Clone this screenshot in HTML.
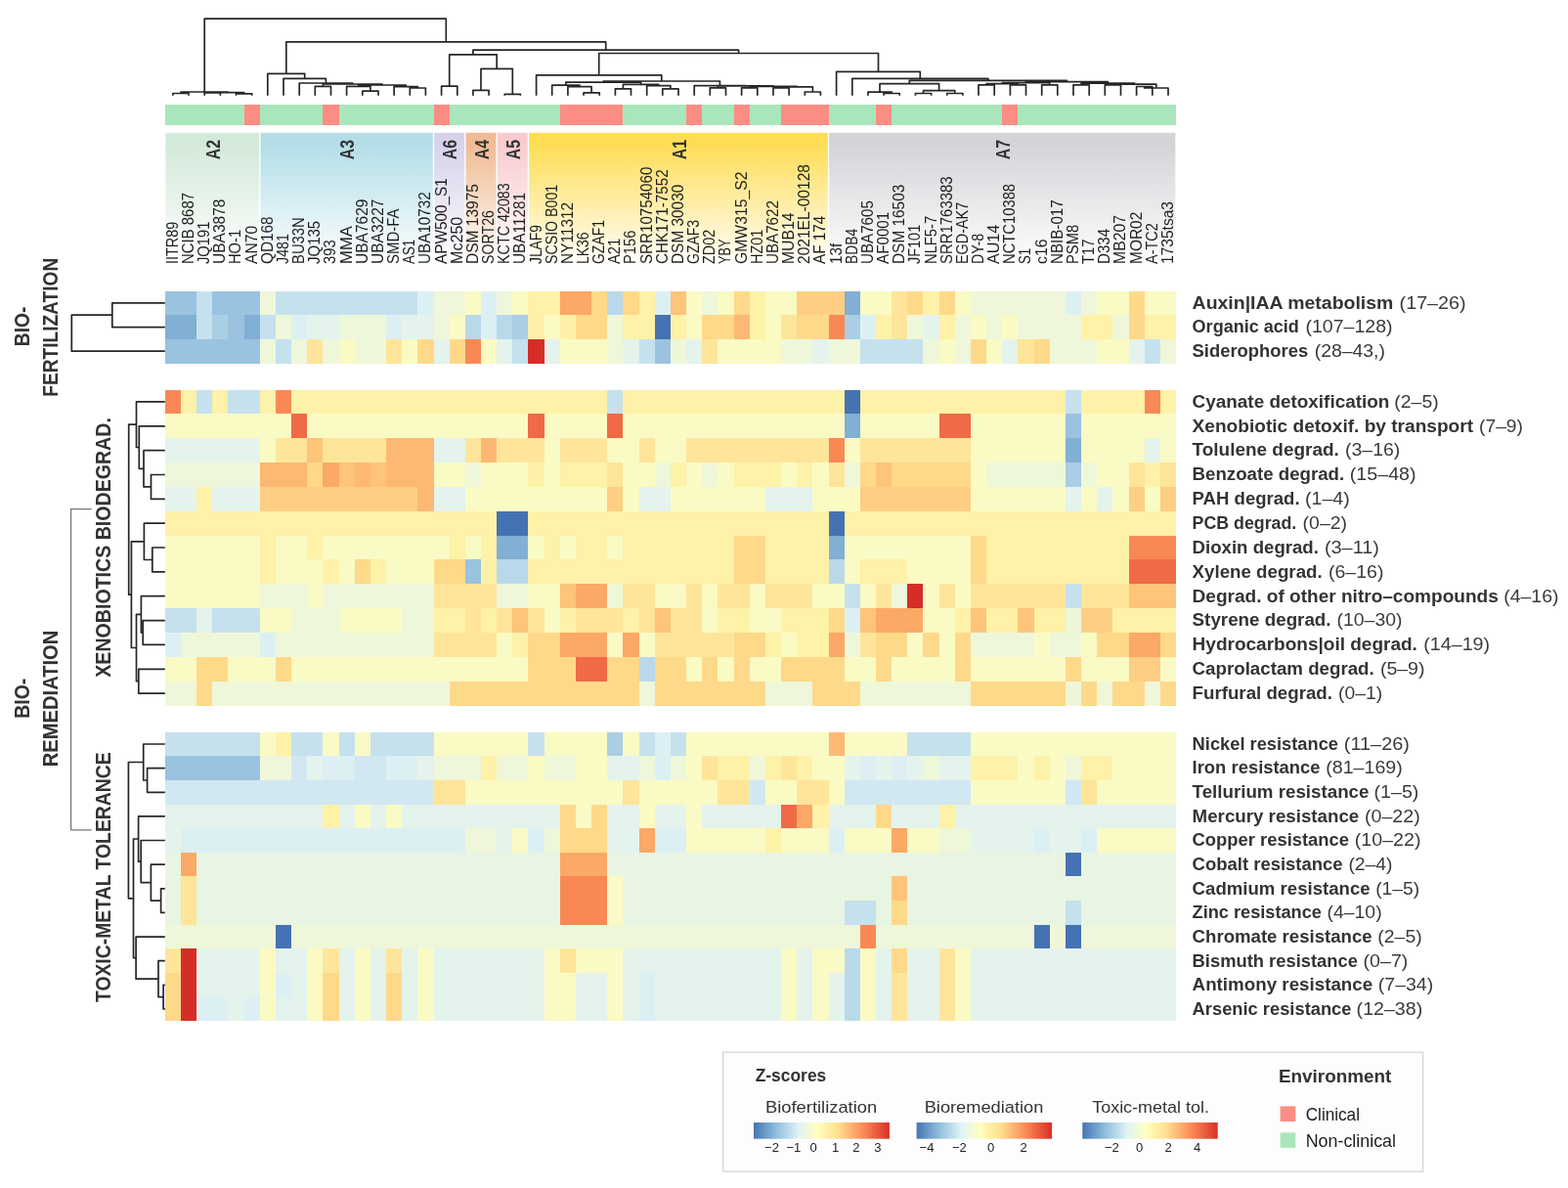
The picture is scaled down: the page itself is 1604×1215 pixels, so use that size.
<!DOCTYPE html>
<html><head><meta charset="utf-8"><title>Heatmap</title><style>
html,body{margin:0;padding:0;background:#fff;}
body{width:1604px;height:1215px;overflow:hidden;}
svg{display:block;}
text{font-family:"Liberation Sans",Arial,sans-serif;}
.cl{font-size:16px;fill:#1e1e1e;}
.grp{font-size:19.5px;font-weight:bold;fill:#333;}
.dg{fill:none;stroke:#262626;stroke-width:1.7;stroke-linejoin:round;stroke-linecap:butt;}
.br{fill:none;stroke:#777;stroke-width:1.3;}
.big{font-size:21.3px;font-weight:bold;fill:#333;}
.rb{font-size:18.7px;font-weight:bold;fill:#333;}
.rr{font-size:18.7px;fill:#3a3a3a;}
.lgh{font-size:18.7px;font-weight:bold;fill:#333;}
.lgt{font-size:17.2px;fill:#333;}
.tk{font-size:13px;fill:#222;}
.lge{font-size:17.7px;fill:#1e1e1e;}
</style></head><body>
<svg width="1604" height="1215" viewBox="0 0 1604 1215">
<defs>
<linearGradient id="gA2" x1="0" y1="0" x2="0" y2="1"><stop offset="0" stop-color="#d3e9da"/><stop offset="0.08" stop-color="#d3e9da"/><stop offset="1" stop-color="#ffffff"/></linearGradient>
<linearGradient id="gA3" x1="0" y1="0" x2="0" y2="1"><stop offset="0" stop-color="#b3dee8"/><stop offset="0.08" stop-color="#b3dee8"/><stop offset="1" stop-color="#ffffff"/></linearGradient>
<linearGradient id="gA6" x1="0" y1="0" x2="0" y2="1"><stop offset="0" stop-color="#d7d2ea"/><stop offset="0.08" stop-color="#d7d2ea"/><stop offset="1" stop-color="#ffffff"/></linearGradient>
<linearGradient id="gA4" x1="0" y1="0" x2="0" y2="1"><stop offset="0" stop-color="#f0bb93"/><stop offset="0.08" stop-color="#f0bb93"/><stop offset="1" stop-color="#ffffff"/></linearGradient>
<linearGradient id="gA5" x1="0" y1="0" x2="0" y2="1"><stop offset="0" stop-color="#f8cbcf"/><stop offset="0.08" stop-color="#f8cbcf"/><stop offset="1" stop-color="#ffffff"/></linearGradient>
<linearGradient id="gA1" x1="0" y1="0" x2="0" y2="1"><stop offset="0" stop-color="#fedd55"/><stop offset="0.08" stop-color="#fedd55"/><stop offset="1" stop-color="#ffffff"/></linearGradient>
<linearGradient id="gA7" x1="0" y1="0" x2="0" y2="1"><stop offset="0" stop-color="#d3d4d8"/><stop offset="0.08" stop-color="#d3d4d8"/><stop offset="1" stop-color="#ffffff"/></linearGradient>
<linearGradient id="b1" x1="0" y1="0" x2="1" y2="0"><stop offset="0" stop-color="#4575b4"/><stop offset="0.17" stop-color="#91bfdb"/><stop offset="0.33" stop-color="#e0f3f8"/><stop offset="0.47" stop-color="#ffffbf"/><stop offset="0.62" stop-color="#fee090"/><stop offset="0.8" stop-color="#fc8d59"/><stop offset="1" stop-color="#d73027"/></linearGradient>
<linearGradient id="b2" x1="0" y1="0" x2="1" y2="0"><stop offset="0" stop-color="#4575b4"/><stop offset="0.17" stop-color="#91bfdb"/><stop offset="0.33" stop-color="#e0f3f8"/><stop offset="0.47" stop-color="#ffffbf"/><stop offset="0.62" stop-color="#fee090"/><stop offset="0.8" stop-color="#fc8d59"/><stop offset="1" stop-color="#d73027"/></linearGradient>
<linearGradient id="b3" x1="0" y1="0" x2="1" y2="0"><stop offset="0" stop-color="#4575b4"/><stop offset="0.17" stop-color="#91bfdb"/><stop offset="0.33" stop-color="#e0f3f8"/><stop offset="0.47" stop-color="#ffffbf"/><stop offset="0.62" stop-color="#fee090"/><stop offset="0.8" stop-color="#fc8d59"/><stop offset="1" stop-color="#d73027"/></linearGradient>
</defs>
<rect width="1604" height="1215" fill="#ffffff"/>
<g shape-rendering="crispEdges">
<rect x="168.80" y="297.50" width="32.32" height="24.70" fill="#9ac3df"/>
<rect x="201.12" y="297.50" width="16.16" height="24.70" fill="#c5e1ee"/>
<rect x="217.28" y="297.50" width="48.48" height="24.70" fill="#9ac3df"/>
<rect x="265.76" y="297.50" width="16.16" height="24.70" fill="#eff7da"/>
<rect x="281.92" y="297.50" width="145.44" height="24.70" fill="#c5e1ee"/>
<rect x="427.36" y="297.50" width="16.16" height="24.70" fill="#dcf0f4"/>
<rect x="443.52" y="297.50" width="32.32" height="24.70" fill="#eff7da"/>
<rect x="475.84" y="297.50" width="16.16" height="24.70" fill="#fafac4"/>
<rect x="492.00" y="297.50" width="16.16" height="24.70" fill="#dcf0f4"/>
<rect x="508.16" y="297.50" width="16.16" height="24.70" fill="#eff7da"/>
<rect x="524.32" y="297.50" width="16.16" height="24.70" fill="#fafac4"/>
<rect x="540.48" y="297.50" width="32.32" height="24.70" fill="#fef1a8"/>
<rect x="572.80" y="297.50" width="32.32" height="24.70" fill="#fca866"/>
<rect x="605.12" y="297.50" width="16.16" height="24.70" fill="#fed98a"/>
<rect x="621.28" y="297.50" width="16.16" height="24.70" fill="#b9d9eb"/>
<rect x="637.44" y="297.50" width="16.16" height="24.70" fill="#fed98a"/>
<rect x="653.60" y="297.50" width="16.16" height="24.70" fill="#fef1a8"/>
<rect x="669.76" y="297.50" width="16.16" height="24.70" fill="#dcf0f4"/>
<rect x="685.92" y="297.50" width="16.16" height="24.70" fill="#fdc47a"/>
<rect x="702.08" y="297.50" width="16.16" height="24.70" fill="#fafac4"/>
<rect x="718.24" y="297.50" width="16.16" height="24.70" fill="#eff7da"/>
<rect x="734.40" y="297.50" width="16.16" height="24.70" fill="#fafac4"/>
<rect x="750.56" y="297.50" width="16.16" height="24.70" fill="#fed98a"/>
<rect x="766.72" y="297.50" width="16.16" height="24.70" fill="#fef1a8"/>
<rect x="782.88" y="297.50" width="32.32" height="24.70" fill="#fafac4"/>
<rect x="815.20" y="297.50" width="48.48" height="24.70" fill="#fdce83"/>
<rect x="863.68" y="297.50" width="16.16" height="24.70" fill="#82afd4"/>
<rect x="879.84" y="297.50" width="32.32" height="24.70" fill="#fafac4"/>
<rect x="912.16" y="297.50" width="16.16" height="24.70" fill="#fee59a"/>
<rect x="928.32" y="297.50" width="16.16" height="24.70" fill="#fed98a"/>
<rect x="944.48" y="297.50" width="16.16" height="24.70" fill="#fef1a8"/>
<rect x="960.64" y="297.50" width="16.16" height="24.70" fill="#fed98a"/>
<rect x="976.80" y="297.50" width="16.16" height="24.70" fill="#fafac4"/>
<rect x="992.96" y="297.50" width="96.96" height="24.70" fill="#eff7da"/>
<rect x="1089.92" y="297.50" width="16.16" height="24.70" fill="#dcf0f4"/>
<rect x="1106.08" y="297.50" width="16.16" height="24.70" fill="#eff7da"/>
<rect x="1122.24" y="297.50" width="32.32" height="24.70" fill="#fafac4"/>
<rect x="1154.56" y="297.50" width="16.16" height="24.70" fill="#fed98a"/>
<rect x="1170.72" y="297.50" width="32.32" height="24.70" fill="#fafac4"/>
<rect x="168.80" y="322.20" width="32.32" height="24.70" fill="#82afd4"/>
<rect x="201.12" y="322.20" width="16.16" height="24.70" fill="#c5e1ee"/>
<rect x="217.28" y="322.20" width="16.16" height="24.70" fill="#aacee4"/>
<rect x="233.44" y="322.20" width="16.16" height="24.70" fill="#9ac3df"/>
<rect x="249.60" y="322.20" width="16.16" height="24.70" fill="#82afd4"/>
<rect x="265.76" y="322.20" width="16.16" height="24.70" fill="#c5e1ee"/>
<rect x="281.92" y="322.20" width="16.16" height="24.70" fill="#eff7da"/>
<rect x="298.08" y="322.20" width="16.16" height="24.70" fill="#dcf0f4"/>
<rect x="314.24" y="322.20" width="32.32" height="24.70" fill="#e4f3ec"/>
<rect x="346.56" y="322.20" width="48.48" height="24.70" fill="#eff7da"/>
<rect x="395.04" y="322.20" width="16.16" height="24.70" fill="#dcf0f4"/>
<rect x="411.20" y="322.20" width="32.32" height="24.70" fill="#e4f3ec"/>
<rect x="443.52" y="322.20" width="16.16" height="24.70" fill="#eff7da"/>
<rect x="459.68" y="322.20" width="16.16" height="24.70" fill="#fafac4"/>
<rect x="475.84" y="322.20" width="16.16" height="24.70" fill="#b9d9eb"/>
<rect x="492.00" y="322.20" width="16.16" height="24.70" fill="#dcf0f4"/>
<rect x="508.16" y="322.20" width="16.16" height="24.70" fill="#b9d9eb"/>
<rect x="524.32" y="322.20" width="16.16" height="24.70" fill="#aacee4"/>
<rect x="540.48" y="322.20" width="16.16" height="24.70" fill="#fef1a8"/>
<rect x="556.64" y="322.20" width="16.16" height="24.70" fill="#fafac4"/>
<rect x="572.80" y="322.20" width="16.16" height="24.70" fill="#fef1a8"/>
<rect x="588.96" y="322.20" width="32.32" height="24.70" fill="#fed98a"/>
<rect x="621.28" y="322.20" width="16.16" height="24.70" fill="#eff7da"/>
<rect x="637.44" y="322.20" width="32.32" height="24.70" fill="#fef1a8"/>
<rect x="669.76" y="322.20" width="16.16" height="24.70" fill="#4572b2"/>
<rect x="685.92" y="322.20" width="16.16" height="24.70" fill="#fef1a8"/>
<rect x="702.08" y="322.20" width="16.16" height="24.70" fill="#fafac4"/>
<rect x="718.24" y="322.20" width="32.32" height="24.70" fill="#fed98a"/>
<rect x="750.56" y="322.20" width="16.16" height="24.70" fill="#fdb873"/>
<rect x="766.72" y="322.20" width="16.16" height="24.70" fill="#fef1a8"/>
<rect x="782.88" y="322.20" width="16.16" height="24.70" fill="#fafac4"/>
<rect x="799.04" y="322.20" width="16.16" height="24.70" fill="#fee59a"/>
<rect x="815.20" y="322.20" width="32.32" height="24.70" fill="#fed98a"/>
<rect x="847.52" y="322.20" width="16.16" height="24.70" fill="#f98954"/>
<rect x="863.68" y="322.20" width="16.16" height="24.70" fill="#aacee4"/>
<rect x="879.84" y="322.20" width="16.16" height="24.70" fill="#dcf0f4"/>
<rect x="896.00" y="322.20" width="16.16" height="24.70" fill="#fef1a8"/>
<rect x="912.16" y="322.20" width="16.16" height="24.70" fill="#fee59a"/>
<rect x="928.32" y="322.20" width="16.16" height="24.70" fill="#eff7da"/>
<rect x="944.48" y="322.20" width="16.16" height="24.70" fill="#e4f3ec"/>
<rect x="960.64" y="322.20" width="16.16" height="24.70" fill="#fef1a8"/>
<rect x="976.80" y="322.20" width="16.16" height="24.70" fill="#eff7da"/>
<rect x="992.96" y="322.20" width="16.16" height="24.70" fill="#fafac4"/>
<rect x="1009.12" y="322.20" width="16.16" height="24.70" fill="#eff7da"/>
<rect x="1025.28" y="322.20" width="16.16" height="24.70" fill="#fafac4"/>
<rect x="1041.44" y="322.20" width="64.64" height="24.70" fill="#eff7da"/>
<rect x="1106.08" y="322.20" width="32.32" height="24.70" fill="#fef1a8"/>
<rect x="1138.40" y="322.20" width="16.16" height="24.70" fill="#eff7da"/>
<rect x="1154.56" y="322.20" width="16.16" height="24.70" fill="#fed98a"/>
<rect x="1170.72" y="322.20" width="32.32" height="24.70" fill="#fef1a8"/>
<rect x="168.80" y="346.90" width="96.96" height="24.70" fill="#9ac3df"/>
<rect x="265.76" y="346.90" width="16.16" height="24.70" fill="#eff7da"/>
<rect x="281.92" y="346.90" width="16.16" height="24.70" fill="#c5e1ee"/>
<rect x="298.08" y="346.90" width="16.16" height="24.70" fill="#eff7da"/>
<rect x="314.24" y="346.90" width="16.16" height="24.70" fill="#fee59a"/>
<rect x="330.40" y="346.90" width="16.16" height="24.70" fill="#eff7da"/>
<rect x="346.56" y="346.90" width="16.16" height="24.70" fill="#fafac4"/>
<rect x="362.72" y="346.90" width="32.32" height="24.70" fill="#eff7da"/>
<rect x="395.04" y="346.90" width="16.16" height="24.70" fill="#fee59a"/>
<rect x="411.20" y="346.90" width="16.16" height="24.70" fill="#fafac4"/>
<rect x="427.36" y="346.90" width="16.16" height="24.70" fill="#fed98a"/>
<rect x="443.52" y="346.90" width="16.16" height="24.70" fill="#e4f3ec"/>
<rect x="459.68" y="346.90" width="16.16" height="24.70" fill="#fed98a"/>
<rect x="475.84" y="346.90" width="16.16" height="24.70" fill="#f98954"/>
<rect x="492.00" y="346.90" width="16.16" height="24.70" fill="#fafac4"/>
<rect x="508.16" y="346.90" width="16.16" height="24.70" fill="#e4f3ec"/>
<rect x="524.32" y="346.90" width="16.16" height="24.70" fill="#c5e1ee"/>
<rect x="540.48" y="346.90" width="16.16" height="24.70" fill="#d52e27"/>
<rect x="556.64" y="346.90" width="16.16" height="24.70" fill="#e4f3ec"/>
<rect x="572.80" y="346.90" width="48.48" height="24.70" fill="#fafac4"/>
<rect x="621.28" y="346.90" width="16.16" height="24.70" fill="#eff7da"/>
<rect x="637.44" y="346.90" width="16.16" height="24.70" fill="#e4f3ec"/>
<rect x="653.60" y="346.90" width="16.16" height="24.70" fill="#c5e1ee"/>
<rect x="669.76" y="346.90" width="16.16" height="24.70" fill="#9ac3df"/>
<rect x="685.92" y="346.90" width="16.16" height="24.70" fill="#eff7da"/>
<rect x="702.08" y="346.90" width="16.16" height="24.70" fill="#e4f3ec"/>
<rect x="718.24" y="346.90" width="16.16" height="24.70" fill="#fee59a"/>
<rect x="734.40" y="346.90" width="64.64" height="24.70" fill="#fafac4"/>
<rect x="799.04" y="346.90" width="32.32" height="24.70" fill="#eff7da"/>
<rect x="831.36" y="346.90" width="16.16" height="24.70" fill="#e4f3ec"/>
<rect x="847.52" y="346.90" width="32.32" height="24.70" fill="#eff7da"/>
<rect x="879.84" y="346.90" width="64.64" height="24.70" fill="#c5e1ee"/>
<rect x="944.48" y="346.90" width="16.16" height="24.70" fill="#eff7da"/>
<rect x="960.64" y="346.90" width="16.16" height="24.70" fill="#fafac4"/>
<rect x="976.80" y="346.90" width="16.16" height="24.70" fill="#eff7da"/>
<rect x="992.96" y="346.90" width="16.16" height="24.70" fill="#fed98a"/>
<rect x="1009.12" y="346.90" width="16.16" height="24.70" fill="#fafac4"/>
<rect x="1025.28" y="346.90" width="16.16" height="24.70" fill="#e4f3ec"/>
<rect x="1041.44" y="346.90" width="16.16" height="24.70" fill="#fee59a"/>
<rect x="1057.60" y="346.90" width="16.16" height="24.70" fill="#fed98a"/>
<rect x="1073.76" y="346.90" width="48.48" height="24.70" fill="#eff7da"/>
<rect x="1122.24" y="346.90" width="32.32" height="24.70" fill="#fafac4"/>
<rect x="1154.56" y="346.90" width="16.16" height="24.70" fill="#e4f3ec"/>
<rect x="1170.72" y="346.90" width="16.16" height="24.70" fill="#c5e1ee"/>
<rect x="1186.88" y="346.90" width="16.16" height="24.70" fill="#eff7da"/>
<rect x="168.80" y="398.50" width="16.16" height="24.85" fill="#f98954"/>
<rect x="184.96" y="398.50" width="16.16" height="24.85" fill="#fef1a8"/>
<rect x="201.12" y="398.50" width="16.16" height="24.85" fill="#c5e1ee"/>
<rect x="217.28" y="398.50" width="16.16" height="24.85" fill="#fef1a8"/>
<rect x="233.44" y="398.50" width="32.32" height="24.85" fill="#c5e1ee"/>
<rect x="265.76" y="398.50" width="16.16" height="24.85" fill="#fef1a8"/>
<rect x="281.92" y="398.50" width="16.16" height="24.85" fill="#f98954"/>
<rect x="298.08" y="398.50" width="323.20" height="24.85" fill="#fef1a8"/>
<rect x="621.28" y="398.50" width="16.16" height="24.85" fill="#c5e1ee"/>
<rect x="637.44" y="398.50" width="226.24" height="24.85" fill="#fef1a8"/>
<rect x="863.68" y="398.50" width="16.16" height="24.85" fill="#4572b2"/>
<rect x="879.84" y="398.50" width="210.08" height="24.85" fill="#fef1a8"/>
<rect x="1089.92" y="398.50" width="16.16" height="24.85" fill="#c5e1ee"/>
<rect x="1106.08" y="398.50" width="64.64" height="24.85" fill="#fef1a8"/>
<rect x="1170.72" y="398.50" width="16.16" height="24.85" fill="#f98954"/>
<rect x="1186.88" y="398.50" width="16.16" height="24.85" fill="#fef1a8"/>
<rect x="168.80" y="423.35" width="129.28" height="24.85" fill="#fafac4"/>
<rect x="298.08" y="423.35" width="16.16" height="24.85" fill="#ef6a45"/>
<rect x="314.24" y="423.35" width="226.24" height="24.85" fill="#fafac4"/>
<rect x="540.48" y="423.35" width="16.16" height="24.85" fill="#ef6a45"/>
<rect x="556.64" y="423.35" width="64.64" height="24.85" fill="#fafac4"/>
<rect x="621.28" y="423.35" width="16.16" height="24.85" fill="#ef6a45"/>
<rect x="637.44" y="423.35" width="226.24" height="24.85" fill="#fafac4"/>
<rect x="863.68" y="423.35" width="16.16" height="24.85" fill="#82afd4"/>
<rect x="879.84" y="423.35" width="80.80" height="24.85" fill="#fafac4"/>
<rect x="960.64" y="423.35" width="32.32" height="24.85" fill="#ef6a45"/>
<rect x="992.96" y="423.35" width="96.96" height="24.85" fill="#fafac4"/>
<rect x="1089.92" y="423.35" width="16.16" height="24.85" fill="#9ac3df"/>
<rect x="1106.08" y="423.35" width="96.96" height="24.85" fill="#fafac4"/>
<rect x="168.80" y="448.20" width="96.96" height="24.85" fill="#e4f3ec"/>
<rect x="265.76" y="448.20" width="16.16" height="24.85" fill="#fafac4"/>
<rect x="281.92" y="448.20" width="32.32" height="24.85" fill="#fee59a"/>
<rect x="314.24" y="448.20" width="16.16" height="24.85" fill="#fdc47a"/>
<rect x="330.40" y="448.20" width="64.64" height="24.85" fill="#fee59a"/>
<rect x="395.04" y="448.20" width="48.48" height="24.85" fill="#fdb873"/>
<rect x="443.52" y="448.20" width="32.32" height="24.85" fill="#e4f3ec"/>
<rect x="475.84" y="448.20" width="16.16" height="24.85" fill="#fee59a"/>
<rect x="492.00" y="448.20" width="16.16" height="24.85" fill="#fdb873"/>
<rect x="508.16" y="448.20" width="48.48" height="24.85" fill="#fee59a"/>
<rect x="556.64" y="448.20" width="16.16" height="24.85" fill="#fafac4"/>
<rect x="572.80" y="448.20" width="48.48" height="24.85" fill="#fee59a"/>
<rect x="621.28" y="448.20" width="32.32" height="24.85" fill="#fafac4"/>
<rect x="653.60" y="448.20" width="16.16" height="24.85" fill="#fee59a"/>
<rect x="669.76" y="448.20" width="32.32" height="24.85" fill="#fafac4"/>
<rect x="702.08" y="448.20" width="145.44" height="24.85" fill="#fee59a"/>
<rect x="847.52" y="448.20" width="16.16" height="24.85" fill="#f98954"/>
<rect x="863.68" y="448.20" width="16.16" height="24.85" fill="#fafac4"/>
<rect x="879.84" y="448.20" width="113.12" height="24.85" fill="#fee59a"/>
<rect x="992.96" y="448.20" width="96.96" height="24.85" fill="#fafac4"/>
<rect x="1089.92" y="448.20" width="16.16" height="24.85" fill="#82afd4"/>
<rect x="1106.08" y="448.20" width="64.64" height="24.85" fill="#fafac4"/>
<rect x="1170.72" y="448.20" width="16.16" height="24.85" fill="#e4f3ec"/>
<rect x="1186.88" y="448.20" width="16.16" height="24.85" fill="#fafac4"/>
<rect x="168.80" y="473.05" width="96.96" height="24.85" fill="#eff7da"/>
<rect x="265.76" y="473.05" width="48.48" height="24.85" fill="#fdb873"/>
<rect x="314.24" y="473.05" width="16.16" height="24.85" fill="#fed98a"/>
<rect x="330.40" y="473.05" width="16.16" height="24.85" fill="#fca866"/>
<rect x="346.56" y="473.05" width="16.16" height="24.85" fill="#fdc47a"/>
<rect x="362.72" y="473.05" width="16.16" height="24.85" fill="#fdb873"/>
<rect x="378.88" y="473.05" width="16.16" height="24.85" fill="#fdc47a"/>
<rect x="395.04" y="473.05" width="48.48" height="24.85" fill="#fdb873"/>
<rect x="443.52" y="473.05" width="32.32" height="24.85" fill="#fafac4"/>
<rect x="475.84" y="473.05" width="16.16" height="24.85" fill="#eff7da"/>
<rect x="492.00" y="473.05" width="48.48" height="24.85" fill="#fafac4"/>
<rect x="540.48" y="473.05" width="16.16" height="24.85" fill="#fef1a8"/>
<rect x="556.64" y="473.05" width="16.16" height="24.85" fill="#fafac4"/>
<rect x="572.80" y="473.05" width="48.48" height="24.85" fill="#fef1a8"/>
<rect x="621.28" y="473.05" width="16.16" height="24.85" fill="#fee59a"/>
<rect x="637.44" y="473.05" width="32.32" height="24.85" fill="#fafac4"/>
<rect x="669.76" y="473.05" width="16.16" height="24.85" fill="#eff7da"/>
<rect x="685.92" y="473.05" width="16.16" height="24.85" fill="#fef1a8"/>
<rect x="702.08" y="473.05" width="16.16" height="24.85" fill="#fafac4"/>
<rect x="718.24" y="473.05" width="16.16" height="24.85" fill="#eff7da"/>
<rect x="734.40" y="473.05" width="16.16" height="24.85" fill="#fafac4"/>
<rect x="750.56" y="473.05" width="48.48" height="24.85" fill="#fef1a8"/>
<rect x="799.04" y="473.05" width="16.16" height="24.85" fill="#fafac4"/>
<rect x="815.20" y="473.05" width="16.16" height="24.85" fill="#fef1a8"/>
<rect x="831.36" y="473.05" width="16.16" height="24.85" fill="#fafac4"/>
<rect x="847.52" y="473.05" width="16.16" height="24.85" fill="#fee59a"/>
<rect x="863.68" y="473.05" width="16.16" height="24.85" fill="#eff7da"/>
<rect x="879.84" y="473.05" width="16.16" height="24.85" fill="#fed98a"/>
<rect x="896.00" y="473.05" width="16.16" height="24.85" fill="#fdc47a"/>
<rect x="912.16" y="473.05" width="80.80" height="24.85" fill="#fed98a"/>
<rect x="992.96" y="473.05" width="16.16" height="24.85" fill="#fafac4"/>
<rect x="1009.12" y="473.05" width="80.80" height="24.85" fill="#eff7da"/>
<rect x="1089.92" y="473.05" width="16.16" height="24.85" fill="#aacee4"/>
<rect x="1106.08" y="473.05" width="16.16" height="24.85" fill="#eff7da"/>
<rect x="1122.24" y="473.05" width="32.32" height="24.85" fill="#fafac4"/>
<rect x="1154.56" y="473.05" width="16.16" height="24.85" fill="#fee59a"/>
<rect x="1170.72" y="473.05" width="16.16" height="24.85" fill="#fef1a8"/>
<rect x="1186.88" y="473.05" width="16.16" height="24.85" fill="#fee59a"/>
<rect x="168.80" y="497.90" width="32.32" height="24.85" fill="#e4f3ec"/>
<rect x="201.12" y="497.90" width="16.16" height="24.85" fill="#fef1a8"/>
<rect x="217.28" y="497.90" width="48.48" height="24.85" fill="#e4f3ec"/>
<rect x="265.76" y="497.90" width="161.60" height="24.85" fill="#fdce83"/>
<rect x="427.36" y="497.90" width="16.16" height="24.85" fill="#fdb873"/>
<rect x="443.52" y="497.90" width="32.32" height="24.85" fill="#e4f3ec"/>
<rect x="475.84" y="497.90" width="145.44" height="24.85" fill="#fafac4"/>
<rect x="621.28" y="497.90" width="16.16" height="24.85" fill="#fdce83"/>
<rect x="637.44" y="497.90" width="16.16" height="24.85" fill="#fafac4"/>
<rect x="653.60" y="497.90" width="32.32" height="24.85" fill="#e4f3ec"/>
<rect x="685.92" y="497.90" width="96.96" height="24.85" fill="#fafac4"/>
<rect x="782.88" y="497.90" width="48.48" height="24.85" fill="#e4f3ec"/>
<rect x="831.36" y="497.90" width="48.48" height="24.85" fill="#fafac4"/>
<rect x="879.84" y="497.90" width="113.12" height="24.85" fill="#fdce83"/>
<rect x="992.96" y="497.90" width="96.96" height="24.85" fill="#fafac4"/>
<rect x="1089.92" y="497.90" width="16.16" height="24.85" fill="#e4f3ec"/>
<rect x="1106.08" y="497.90" width="16.16" height="24.85" fill="#fafac4"/>
<rect x="1122.24" y="497.90" width="16.16" height="24.85" fill="#e4f3ec"/>
<rect x="1138.40" y="497.90" width="16.16" height="24.85" fill="#fafac4"/>
<rect x="1154.56" y="497.90" width="16.16" height="24.85" fill="#fdce83"/>
<rect x="1170.72" y="497.90" width="16.16" height="24.85" fill="#fafac4"/>
<rect x="1186.88" y="497.90" width="16.16" height="24.85" fill="#fdce83"/>
<rect x="168.80" y="522.75" width="339.36" height="24.85" fill="#fef1a8"/>
<rect x="508.16" y="522.75" width="32.32" height="24.85" fill="#4572b2"/>
<rect x="540.48" y="522.75" width="307.04" height="24.85" fill="#fef1a8"/>
<rect x="847.52" y="522.75" width="16.16" height="24.85" fill="#4572b2"/>
<rect x="863.68" y="522.75" width="339.36" height="24.85" fill="#fef1a8"/>
<rect x="168.80" y="547.60" width="96.96" height="24.85" fill="#fafac4"/>
<rect x="265.76" y="547.60" width="16.16" height="24.85" fill="#fef1a8"/>
<rect x="281.92" y="547.60" width="32.32" height="24.85" fill="#fafac4"/>
<rect x="314.24" y="547.60" width="16.16" height="24.85" fill="#fef1a8"/>
<rect x="330.40" y="547.60" width="129.28" height="24.85" fill="#fafac4"/>
<rect x="459.68" y="547.60" width="16.16" height="24.85" fill="#fef1a8"/>
<rect x="475.84" y="547.60" width="16.16" height="24.85" fill="#fafac4"/>
<rect x="492.00" y="547.60" width="16.16" height="24.85" fill="#fef1a8"/>
<rect x="508.16" y="547.60" width="32.32" height="24.85" fill="#82afd4"/>
<rect x="540.48" y="547.60" width="16.16" height="24.85" fill="#fafac4"/>
<rect x="556.64" y="547.60" width="16.16" height="24.85" fill="#fef1a8"/>
<rect x="572.80" y="547.60" width="16.16" height="24.85" fill="#fafac4"/>
<rect x="588.96" y="547.60" width="32.32" height="24.85" fill="#fef1a8"/>
<rect x="621.28" y="547.60" width="16.16" height="24.85" fill="#fafac4"/>
<rect x="637.44" y="547.60" width="113.12" height="24.85" fill="#fef1a8"/>
<rect x="750.56" y="547.60" width="32.32" height="24.85" fill="#fed98a"/>
<rect x="782.88" y="547.60" width="64.64" height="24.85" fill="#fef1a8"/>
<rect x="847.52" y="547.60" width="16.16" height="24.85" fill="#82afd4"/>
<rect x="863.68" y="547.60" width="129.28" height="24.85" fill="#fafac4"/>
<rect x="992.96" y="547.60" width="16.16" height="24.85" fill="#fed98a"/>
<rect x="1009.12" y="547.60" width="145.44" height="24.85" fill="#fef1a8"/>
<rect x="1154.56" y="547.60" width="48.48" height="24.85" fill="#f98954"/>
<rect x="168.80" y="572.45" width="96.96" height="24.85" fill="#fafac4"/>
<rect x="265.76" y="572.45" width="16.16" height="24.85" fill="#fef1a8"/>
<rect x="281.92" y="572.45" width="48.48" height="24.85" fill="#fafac4"/>
<rect x="330.40" y="572.45" width="16.16" height="24.85" fill="#fef1a8"/>
<rect x="346.56" y="572.45" width="16.16" height="24.85" fill="#fafac4"/>
<rect x="362.72" y="572.45" width="16.16" height="24.85" fill="#fed98a"/>
<rect x="378.88" y="572.45" width="16.16" height="24.85" fill="#fef1a8"/>
<rect x="395.04" y="572.45" width="48.48" height="24.85" fill="#fafac4"/>
<rect x="443.52" y="572.45" width="32.32" height="24.85" fill="#fed98a"/>
<rect x="475.84" y="572.45" width="16.16" height="24.85" fill="#9ac3df"/>
<rect x="492.00" y="572.45" width="16.16" height="24.85" fill="#fef1a8"/>
<rect x="508.16" y="572.45" width="32.32" height="24.85" fill="#b9d9eb"/>
<rect x="540.48" y="572.45" width="210.08" height="24.85" fill="#fef1a8"/>
<rect x="750.56" y="572.45" width="32.32" height="24.85" fill="#fed98a"/>
<rect x="782.88" y="572.45" width="64.64" height="24.85" fill="#fef1a8"/>
<rect x="847.52" y="572.45" width="16.16" height="24.85" fill="#b9d9eb"/>
<rect x="863.68" y="572.45" width="16.16" height="24.85" fill="#fafac4"/>
<rect x="879.84" y="572.45" width="48.48" height="24.85" fill="#fef1a8"/>
<rect x="928.32" y="572.45" width="64.64" height="24.85" fill="#fafac4"/>
<rect x="992.96" y="572.45" width="16.16" height="24.85" fill="#fed98a"/>
<rect x="1009.12" y="572.45" width="145.44" height="24.85" fill="#fef1a8"/>
<rect x="1154.56" y="572.45" width="48.48" height="24.85" fill="#ef6a45"/>
<rect x="168.80" y="597.30" width="96.96" height="24.85" fill="#fafac4"/>
<rect x="265.76" y="597.30" width="48.48" height="24.85" fill="#eff7da"/>
<rect x="314.24" y="597.30" width="16.16" height="24.85" fill="#fafac4"/>
<rect x="330.40" y="597.30" width="113.12" height="24.85" fill="#eff7da"/>
<rect x="443.52" y="597.30" width="64.64" height="24.85" fill="#fee59a"/>
<rect x="508.16" y="597.30" width="32.32" height="24.85" fill="#eff7da"/>
<rect x="540.48" y="597.30" width="32.32" height="24.85" fill="#fafac4"/>
<rect x="572.80" y="597.30" width="16.16" height="24.85" fill="#fdc47a"/>
<rect x="588.96" y="597.30" width="32.32" height="24.85" fill="#fca866"/>
<rect x="621.28" y="597.30" width="16.16" height="24.85" fill="#eff7da"/>
<rect x="637.44" y="597.30" width="32.32" height="24.85" fill="#fee59a"/>
<rect x="669.76" y="597.30" width="32.32" height="24.85" fill="#fafac4"/>
<rect x="702.08" y="597.30" width="16.16" height="24.85" fill="#fee59a"/>
<rect x="718.24" y="597.30" width="16.16" height="24.85" fill="#fafac4"/>
<rect x="734.40" y="597.30" width="32.32" height="24.85" fill="#fee59a"/>
<rect x="766.72" y="597.30" width="16.16" height="24.85" fill="#fafac4"/>
<rect x="782.88" y="597.30" width="48.48" height="24.85" fill="#fee59a"/>
<rect x="831.36" y="597.30" width="32.32" height="24.85" fill="#fafac4"/>
<rect x="863.68" y="597.30" width="16.16" height="24.85" fill="#c5e1ee"/>
<rect x="879.84" y="597.30" width="16.16" height="24.85" fill="#fafac4"/>
<rect x="896.00" y="597.30" width="16.16" height="24.85" fill="#fee59a"/>
<rect x="912.16" y="597.30" width="16.16" height="24.85" fill="#eff7da"/>
<rect x="928.32" y="597.30" width="16.16" height="24.85" fill="#d52e27"/>
<rect x="944.48" y="597.30" width="16.16" height="24.85" fill="#fafac4"/>
<rect x="960.64" y="597.30" width="16.16" height="24.85" fill="#fee59a"/>
<rect x="976.80" y="597.30" width="16.16" height="24.85" fill="#fafac4"/>
<rect x="992.96" y="597.30" width="96.96" height="24.85" fill="#fee59a"/>
<rect x="1089.92" y="597.30" width="16.16" height="24.85" fill="#c5e1ee"/>
<rect x="1106.08" y="597.30" width="48.48" height="24.85" fill="#fee59a"/>
<rect x="1154.56" y="597.30" width="48.48" height="24.85" fill="#fdc47a"/>
<rect x="168.80" y="622.15" width="32.32" height="24.85" fill="#c5e1ee"/>
<rect x="201.12" y="622.15" width="16.16" height="24.85" fill="#e4f3ec"/>
<rect x="217.28" y="622.15" width="48.48" height="24.85" fill="#c5e1ee"/>
<rect x="265.76" y="622.15" width="32.32" height="24.85" fill="#fafac4"/>
<rect x="298.08" y="622.15" width="48.48" height="24.85" fill="#eff7da"/>
<rect x="346.56" y="622.15" width="64.64" height="24.85" fill="#fafac4"/>
<rect x="411.20" y="622.15" width="32.32" height="24.85" fill="#eff7da"/>
<rect x="443.52" y="622.15" width="32.32" height="24.85" fill="#fef1a8"/>
<rect x="475.84" y="622.15" width="16.16" height="24.85" fill="#fee59a"/>
<rect x="492.00" y="622.15" width="16.16" height="24.85" fill="#fef1a8"/>
<rect x="508.16" y="622.15" width="16.16" height="24.85" fill="#fee59a"/>
<rect x="524.32" y="622.15" width="16.16" height="24.85" fill="#fdc47a"/>
<rect x="540.48" y="622.15" width="16.16" height="24.85" fill="#fee59a"/>
<rect x="556.64" y="622.15" width="16.16" height="24.85" fill="#fafac4"/>
<rect x="572.80" y="622.15" width="16.16" height="24.85" fill="#fef1a8"/>
<rect x="588.96" y="622.15" width="48.48" height="24.85" fill="#fee59a"/>
<rect x="637.44" y="622.15" width="16.16" height="24.85" fill="#fef1a8"/>
<rect x="653.60" y="622.15" width="16.16" height="24.85" fill="#fee59a"/>
<rect x="669.76" y="622.15" width="16.16" height="24.85" fill="#fdc47a"/>
<rect x="685.92" y="622.15" width="32.32" height="24.85" fill="#fee59a"/>
<rect x="718.24" y="622.15" width="16.16" height="24.85" fill="#fafac4"/>
<rect x="734.40" y="622.15" width="32.32" height="24.85" fill="#fef1a8"/>
<rect x="766.72" y="622.15" width="32.32" height="24.85" fill="#fafac4"/>
<rect x="799.04" y="622.15" width="48.48" height="24.85" fill="#fef1a8"/>
<rect x="847.52" y="622.15" width="16.16" height="24.85" fill="#fed98a"/>
<rect x="863.68" y="622.15" width="16.16" height="24.85" fill="#dcf0f4"/>
<rect x="879.84" y="622.15" width="16.16" height="24.85" fill="#fdc47a"/>
<rect x="896.00" y="622.15" width="48.48" height="24.85" fill="#fca866"/>
<rect x="944.48" y="622.15" width="32.32" height="24.85" fill="#fafac4"/>
<rect x="976.80" y="622.15" width="16.16" height="24.85" fill="#fef1a8"/>
<rect x="992.96" y="622.15" width="16.16" height="24.85" fill="#fdc47a"/>
<rect x="1009.12" y="622.15" width="32.32" height="24.85" fill="#fef1a8"/>
<rect x="1041.44" y="622.15" width="16.16" height="24.85" fill="#fdc47a"/>
<rect x="1057.60" y="622.15" width="32.32" height="24.85" fill="#fef1a8"/>
<rect x="1089.92" y="622.15" width="16.16" height="24.85" fill="#eff7da"/>
<rect x="1106.08" y="622.15" width="32.32" height="24.85" fill="#fdce83"/>
<rect x="1138.40" y="622.15" width="64.64" height="24.85" fill="#fef1a8"/>
<rect x="168.80" y="647.00" width="16.16" height="24.85" fill="#dcf0f4"/>
<rect x="184.96" y="647.00" width="80.80" height="24.85" fill="#eff7da"/>
<rect x="265.76" y="647.00" width="16.16" height="24.85" fill="#dcf0f4"/>
<rect x="281.92" y="647.00" width="161.60" height="24.85" fill="#eff7da"/>
<rect x="443.52" y="647.00" width="64.64" height="24.85" fill="#fee59a"/>
<rect x="508.16" y="647.00" width="16.16" height="24.85" fill="#fafac4"/>
<rect x="524.32" y="647.00" width="16.16" height="24.85" fill="#fef1a8"/>
<rect x="540.48" y="647.00" width="32.32" height="24.85" fill="#fed98a"/>
<rect x="572.80" y="647.00" width="48.48" height="24.85" fill="#fca866"/>
<rect x="621.28" y="647.00" width="16.16" height="24.85" fill="#fafac4"/>
<rect x="637.44" y="647.00" width="16.16" height="24.85" fill="#fca866"/>
<rect x="653.60" y="647.00" width="16.16" height="24.85" fill="#fafac4"/>
<rect x="669.76" y="647.00" width="80.80" height="24.85" fill="#fee59a"/>
<rect x="750.56" y="647.00" width="32.32" height="24.85" fill="#fed98a"/>
<rect x="782.88" y="647.00" width="16.16" height="24.85" fill="#fef1a8"/>
<rect x="799.04" y="647.00" width="16.16" height="24.85" fill="#fafac4"/>
<rect x="815.20" y="647.00" width="32.32" height="24.85" fill="#fef1a8"/>
<rect x="847.52" y="647.00" width="16.16" height="24.85" fill="#fca866"/>
<rect x="863.68" y="647.00" width="16.16" height="24.85" fill="#eff7da"/>
<rect x="879.84" y="647.00" width="16.16" height="24.85" fill="#fee59a"/>
<rect x="896.00" y="647.00" width="32.32" height="24.85" fill="#fed98a"/>
<rect x="928.32" y="647.00" width="16.16" height="24.85" fill="#fafac4"/>
<rect x="944.48" y="647.00" width="16.16" height="24.85" fill="#fed98a"/>
<rect x="960.64" y="647.00" width="16.16" height="24.85" fill="#fafac4"/>
<rect x="976.80" y="647.00" width="16.16" height="24.85" fill="#fed98a"/>
<rect x="992.96" y="647.00" width="64.64" height="24.85" fill="#eff7da"/>
<rect x="1057.60" y="647.00" width="16.16" height="24.85" fill="#fafac4"/>
<rect x="1073.76" y="647.00" width="32.32" height="24.85" fill="#eff7da"/>
<rect x="1106.08" y="647.00" width="16.16" height="24.85" fill="#fafac4"/>
<rect x="1122.24" y="647.00" width="32.32" height="24.85" fill="#fed98a"/>
<rect x="1154.56" y="647.00" width="32.32" height="24.85" fill="#fca866"/>
<rect x="1186.88" y="647.00" width="16.16" height="24.85" fill="#fed98a"/>
<rect x="168.80" y="671.85" width="32.32" height="24.85" fill="#fafac4"/>
<rect x="201.12" y="671.85" width="32.32" height="24.85" fill="#fed98a"/>
<rect x="233.44" y="671.85" width="48.48" height="24.85" fill="#fafac4"/>
<rect x="281.92" y="671.85" width="16.16" height="24.85" fill="#fed98a"/>
<rect x="298.08" y="671.85" width="242.40" height="24.85" fill="#fafac4"/>
<rect x="540.48" y="671.85" width="48.48" height="24.85" fill="#fed98a"/>
<rect x="588.96" y="671.85" width="32.32" height="24.85" fill="#ef6a45"/>
<rect x="621.28" y="671.85" width="32.32" height="24.85" fill="#fed98a"/>
<rect x="653.60" y="671.85" width="16.16" height="24.85" fill="#b9d9eb"/>
<rect x="669.76" y="671.85" width="32.32" height="24.85" fill="#fed98a"/>
<rect x="702.08" y="671.85" width="16.16" height="24.85" fill="#fafac4"/>
<rect x="718.24" y="671.85" width="16.16" height="24.85" fill="#fed98a"/>
<rect x="734.40" y="671.85" width="16.16" height="24.85" fill="#fafac4"/>
<rect x="750.56" y="671.85" width="16.16" height="24.85" fill="#fed98a"/>
<rect x="766.72" y="671.85" width="32.32" height="24.85" fill="#fafac4"/>
<rect x="799.04" y="671.85" width="64.64" height="24.85" fill="#fed98a"/>
<rect x="863.68" y="671.85" width="32.32" height="24.85" fill="#fafac4"/>
<rect x="896.00" y="671.85" width="16.16" height="24.85" fill="#fed98a"/>
<rect x="912.16" y="671.85" width="64.64" height="24.85" fill="#fafac4"/>
<rect x="976.80" y="671.85" width="16.16" height="24.85" fill="#fed98a"/>
<rect x="992.96" y="671.85" width="96.96" height="24.85" fill="#fafac4"/>
<rect x="1089.92" y="671.85" width="16.16" height="24.85" fill="#fed98a"/>
<rect x="1106.08" y="671.85" width="48.48" height="24.85" fill="#fafac4"/>
<rect x="1154.56" y="671.85" width="32.32" height="24.85" fill="#fdce83"/>
<rect x="1186.88" y="671.85" width="16.16" height="24.85" fill="#fafac4"/>
<rect x="168.80" y="696.70" width="32.32" height="24.85" fill="#eff7da"/>
<rect x="201.12" y="696.70" width="16.16" height="24.85" fill="#fed98a"/>
<rect x="217.28" y="696.70" width="242.40" height="24.85" fill="#eff7da"/>
<rect x="459.68" y="696.70" width="193.92" height="24.85" fill="#fed98a"/>
<rect x="653.60" y="696.70" width="16.16" height="24.85" fill="#eff7da"/>
<rect x="669.76" y="696.70" width="113.12" height="24.85" fill="#fed98a"/>
<rect x="782.88" y="696.70" width="48.48" height="24.85" fill="#eff7da"/>
<rect x="831.36" y="696.70" width="48.48" height="24.85" fill="#fed98a"/>
<rect x="879.84" y="696.70" width="113.12" height="24.85" fill="#eff7da"/>
<rect x="992.96" y="696.70" width="96.96" height="24.85" fill="#fed98a"/>
<rect x="1089.92" y="696.70" width="16.16" height="24.85" fill="#eff7da"/>
<rect x="1106.08" y="696.70" width="16.16" height="24.85" fill="#fed98a"/>
<rect x="1122.24" y="696.70" width="16.16" height="24.85" fill="#eff7da"/>
<rect x="1138.40" y="696.70" width="32.32" height="24.85" fill="#fed98a"/>
<rect x="1170.72" y="696.70" width="16.16" height="24.85" fill="#eff7da"/>
<rect x="1186.88" y="696.70" width="16.16" height="24.85" fill="#fed98a"/>
<rect x="168.80" y="748.70" width="96.96" height="24.63" fill="#c5e1ee"/>
<rect x="265.76" y="748.70" width="16.16" height="24.63" fill="#fafac4"/>
<rect x="281.92" y="748.70" width="16.16" height="24.63" fill="#fef1a8"/>
<rect x="298.08" y="748.70" width="32.32" height="24.63" fill="#c5e1ee"/>
<rect x="330.40" y="748.70" width="16.16" height="24.63" fill="#fafac4"/>
<rect x="346.56" y="748.70" width="16.16" height="24.63" fill="#c5e1ee"/>
<rect x="362.72" y="748.70" width="16.16" height="24.63" fill="#fafac4"/>
<rect x="378.88" y="748.70" width="64.64" height="24.63" fill="#c5e1ee"/>
<rect x="443.52" y="748.70" width="96.96" height="24.63" fill="#fafac4"/>
<rect x="540.48" y="748.70" width="16.16" height="24.63" fill="#c5e1ee"/>
<rect x="556.64" y="748.70" width="64.64" height="24.63" fill="#fafac4"/>
<rect x="621.28" y="748.70" width="16.16" height="24.63" fill="#aacee4"/>
<rect x="637.44" y="748.70" width="16.16" height="24.63" fill="#fafac4"/>
<rect x="653.60" y="748.70" width="16.16" height="24.63" fill="#c5e1ee"/>
<rect x="669.76" y="748.70" width="16.16" height="24.63" fill="#dcf0f4"/>
<rect x="685.92" y="748.70" width="16.16" height="24.63" fill="#c5e1ee"/>
<rect x="702.08" y="748.70" width="145.44" height="24.63" fill="#fafac4"/>
<rect x="847.52" y="748.70" width="16.16" height="24.63" fill="#fdb873"/>
<rect x="863.68" y="748.70" width="64.64" height="24.63" fill="#fafac4"/>
<rect x="928.32" y="748.70" width="64.64" height="24.63" fill="#c5e1ee"/>
<rect x="992.96" y="748.70" width="210.08" height="24.63" fill="#fafac4"/>
<rect x="168.80" y="773.33" width="96.96" height="24.63" fill="#9ac3df"/>
<rect x="265.76" y="773.33" width="32.32" height="24.63" fill="#eff7da"/>
<rect x="298.08" y="773.33" width="16.16" height="24.63" fill="#d1e8f2"/>
<rect x="314.24" y="773.33" width="16.16" height="24.63" fill="#e4f3ec"/>
<rect x="330.40" y="773.33" width="32.32" height="24.63" fill="#dcf0f4"/>
<rect x="362.72" y="773.33" width="32.32" height="24.63" fill="#d1e8f2"/>
<rect x="395.04" y="773.33" width="32.32" height="24.63" fill="#dcf0f4"/>
<rect x="427.36" y="773.33" width="16.16" height="24.63" fill="#e4f3ec"/>
<rect x="443.52" y="773.33" width="48.48" height="24.63" fill="#eff7da"/>
<rect x="492.00" y="773.33" width="16.16" height="24.63" fill="#fef1a8"/>
<rect x="508.16" y="773.33" width="32.32" height="24.63" fill="#eff7da"/>
<rect x="540.48" y="773.33" width="16.16" height="24.63" fill="#fafac4"/>
<rect x="556.64" y="773.33" width="32.32" height="24.63" fill="#eff7da"/>
<rect x="588.96" y="773.33" width="32.32" height="24.63" fill="#fafac4"/>
<rect x="621.28" y="773.33" width="32.32" height="24.63" fill="#e4f3ec"/>
<rect x="653.60" y="773.33" width="16.16" height="24.63" fill="#eff7da"/>
<rect x="669.76" y="773.33" width="16.16" height="24.63" fill="#dcf0f4"/>
<rect x="685.92" y="773.33" width="16.16" height="24.63" fill="#eff7da"/>
<rect x="702.08" y="773.33" width="16.16" height="24.63" fill="#fafac4"/>
<rect x="718.24" y="773.33" width="16.16" height="24.63" fill="#fee59a"/>
<rect x="734.40" y="773.33" width="32.32" height="24.63" fill="#fef1a8"/>
<rect x="766.72" y="773.33" width="16.16" height="24.63" fill="#eff7da"/>
<rect x="782.88" y="773.33" width="16.16" height="24.63" fill="#fef1a8"/>
<rect x="799.04" y="773.33" width="16.16" height="24.63" fill="#fee59a"/>
<rect x="815.20" y="773.33" width="16.16" height="24.63" fill="#fef1a8"/>
<rect x="831.36" y="773.33" width="32.32" height="24.63" fill="#fafac4"/>
<rect x="863.68" y="773.33" width="16.16" height="24.63" fill="#e4f3ec"/>
<rect x="879.84" y="773.33" width="16.16" height="24.63" fill="#dcf0f4"/>
<rect x="896.00" y="773.33" width="16.16" height="24.63" fill="#e4f3ec"/>
<rect x="912.16" y="773.33" width="16.16" height="24.63" fill="#dcf0f4"/>
<rect x="928.32" y="773.33" width="16.16" height="24.63" fill="#e4f3ec"/>
<rect x="944.48" y="773.33" width="16.16" height="24.63" fill="#eff7da"/>
<rect x="960.64" y="773.33" width="32.32" height="24.63" fill="#e4f3ec"/>
<rect x="992.96" y="773.33" width="48.48" height="24.63" fill="#fef1a8"/>
<rect x="1041.44" y="773.33" width="16.16" height="24.63" fill="#fafac4"/>
<rect x="1057.60" y="773.33" width="16.16" height="24.63" fill="#fef1a8"/>
<rect x="1073.76" y="773.33" width="16.16" height="24.63" fill="#fafac4"/>
<rect x="1089.92" y="773.33" width="16.16" height="24.63" fill="#eff7da"/>
<rect x="1106.08" y="773.33" width="32.32" height="24.63" fill="#fef1a8"/>
<rect x="1138.40" y="773.33" width="64.64" height="24.63" fill="#fafac4"/>
<rect x="168.80" y="797.96" width="274.72" height="24.63" fill="#d1e8f2"/>
<rect x="443.52" y="797.96" width="32.32" height="24.63" fill="#fee59a"/>
<rect x="475.84" y="797.96" width="161.60" height="24.63" fill="#fafac4"/>
<rect x="637.44" y="797.96" width="16.16" height="24.63" fill="#fee59a"/>
<rect x="653.60" y="797.96" width="80.80" height="24.63" fill="#fafac4"/>
<rect x="734.40" y="797.96" width="32.32" height="24.63" fill="#fee59a"/>
<rect x="766.72" y="797.96" width="16.16" height="24.63" fill="#d1e8f2"/>
<rect x="782.88" y="797.96" width="32.32" height="24.63" fill="#fafac4"/>
<rect x="815.20" y="797.96" width="32.32" height="24.63" fill="#fee59a"/>
<rect x="847.52" y="797.96" width="16.16" height="24.63" fill="#fafac4"/>
<rect x="863.68" y="797.96" width="129.28" height="24.63" fill="#d1e8f2"/>
<rect x="992.96" y="797.96" width="96.96" height="24.63" fill="#fafac4"/>
<rect x="1089.92" y="797.96" width="16.16" height="24.63" fill="#d1e8f2"/>
<rect x="1106.08" y="797.96" width="16.16" height="24.63" fill="#fee59a"/>
<rect x="1122.24" y="797.96" width="80.80" height="24.63" fill="#fafac4"/>
<rect x="168.80" y="822.59" width="161.60" height="24.63" fill="#e4f3ec"/>
<rect x="330.40" y="822.59" width="16.16" height="24.63" fill="#fef1a8"/>
<rect x="346.56" y="822.59" width="16.16" height="24.63" fill="#e4f3ec"/>
<rect x="362.72" y="822.59" width="16.16" height="24.63" fill="#fafac4"/>
<rect x="378.88" y="822.59" width="16.16" height="24.63" fill="#e4f3ec"/>
<rect x="395.04" y="822.59" width="16.16" height="24.63" fill="#fafac4"/>
<rect x="411.20" y="822.59" width="161.60" height="24.63" fill="#e4f3ec"/>
<rect x="572.80" y="822.59" width="16.16" height="24.63" fill="#fed98a"/>
<rect x="588.96" y="822.59" width="16.16" height="24.63" fill="#fafac4"/>
<rect x="605.12" y="822.59" width="16.16" height="24.63" fill="#fed98a"/>
<rect x="621.28" y="822.59" width="32.32" height="24.63" fill="#e4f3ec"/>
<rect x="653.60" y="822.59" width="16.16" height="24.63" fill="#fafac4"/>
<rect x="669.76" y="822.59" width="32.32" height="24.63" fill="#e4f3ec"/>
<rect x="702.08" y="822.59" width="16.16" height="24.63" fill="#fafac4"/>
<rect x="718.24" y="822.59" width="80.80" height="24.63" fill="#e4f3ec"/>
<rect x="799.04" y="822.59" width="16.16" height="24.63" fill="#ef6a45"/>
<rect x="815.20" y="822.59" width="16.16" height="24.63" fill="#fca866"/>
<rect x="831.36" y="822.59" width="16.16" height="24.63" fill="#fef1a8"/>
<rect x="847.52" y="822.59" width="48.48" height="24.63" fill="#e4f3ec"/>
<rect x="896.00" y="822.59" width="16.16" height="24.63" fill="#fed98a"/>
<rect x="912.16" y="822.59" width="48.48" height="24.63" fill="#e4f3ec"/>
<rect x="960.64" y="822.59" width="16.16" height="24.63" fill="#fef1a8"/>
<rect x="976.80" y="822.59" width="226.24" height="24.63" fill="#e4f3ec"/>
<rect x="168.80" y="847.22" width="16.16" height="24.63" fill="#e4f3ec"/>
<rect x="184.96" y="847.22" width="290.88" height="24.63" fill="#dcf0f4"/>
<rect x="475.84" y="847.22" width="32.32" height="24.63" fill="#eff7da"/>
<rect x="508.16" y="847.22" width="16.16" height="24.63" fill="#e4f3ec"/>
<rect x="524.32" y="847.22" width="16.16" height="24.63" fill="#fafac4"/>
<rect x="540.48" y="847.22" width="16.16" height="24.63" fill="#dcf0f4"/>
<rect x="556.64" y="847.22" width="16.16" height="24.63" fill="#eff7da"/>
<rect x="572.80" y="847.22" width="48.48" height="24.63" fill="#fed98a"/>
<rect x="621.28" y="847.22" width="32.32" height="24.63" fill="#e4f3ec"/>
<rect x="653.60" y="847.22" width="16.16" height="24.63" fill="#fca866"/>
<rect x="669.76" y="847.22" width="32.32" height="24.63" fill="#dcf0f4"/>
<rect x="702.08" y="847.22" width="80.80" height="24.63" fill="#fafac4"/>
<rect x="782.88" y="847.22" width="16.16" height="24.63" fill="#fef1a8"/>
<rect x="799.04" y="847.22" width="48.48" height="24.63" fill="#fafac4"/>
<rect x="847.52" y="847.22" width="16.16" height="24.63" fill="#dcf0f4"/>
<rect x="863.68" y="847.22" width="48.48" height="24.63" fill="#fafac4"/>
<rect x="912.16" y="847.22" width="16.16" height="24.63" fill="#fca866"/>
<rect x="928.32" y="847.22" width="32.32" height="24.63" fill="#fafac4"/>
<rect x="960.64" y="847.22" width="32.32" height="24.63" fill="#eff7da"/>
<rect x="992.96" y="847.22" width="64.64" height="24.63" fill="#e4f3ec"/>
<rect x="1057.60" y="847.22" width="16.16" height="24.63" fill="#dcf0f4"/>
<rect x="1073.76" y="847.22" width="32.32" height="24.63" fill="#e4f3ec"/>
<rect x="1106.08" y="847.22" width="16.16" height="24.63" fill="#dcf0f4"/>
<rect x="1122.24" y="847.22" width="80.80" height="24.63" fill="#fafac4"/>
<rect x="168.80" y="871.85" width="16.16" height="24.63" fill="#e9f5e3"/>
<rect x="184.96" y="871.85" width="16.16" height="24.63" fill="#fca866"/>
<rect x="201.12" y="871.85" width="371.68" height="24.63" fill="#e9f5e3"/>
<rect x="572.80" y="871.85" width="48.48" height="24.63" fill="#fca866"/>
<rect x="621.28" y="871.85" width="468.64" height="24.63" fill="#e9f5e3"/>
<rect x="1089.92" y="871.85" width="16.16" height="24.63" fill="#4572b2"/>
<rect x="1106.08" y="871.85" width="96.96" height="24.63" fill="#e9f5e3"/>
<rect x="168.80" y="896.48" width="16.16" height="24.63" fill="#e9f5e3"/>
<rect x="184.96" y="896.48" width="16.16" height="24.63" fill="#fee59a"/>
<rect x="201.12" y="896.48" width="371.68" height="24.63" fill="#e9f5e3"/>
<rect x="572.80" y="896.48" width="48.48" height="24.63" fill="#f98954"/>
<rect x="621.28" y="896.48" width="16.16" height="24.63" fill="#fafac4"/>
<rect x="637.44" y="896.48" width="274.72" height="24.63" fill="#e9f5e3"/>
<rect x="912.16" y="896.48" width="16.16" height="24.63" fill="#fdc47a"/>
<rect x="928.32" y="896.48" width="274.72" height="24.63" fill="#e9f5e3"/>
<rect x="168.80" y="921.11" width="16.16" height="24.63" fill="#e9f5e3"/>
<rect x="184.96" y="921.11" width="16.16" height="24.63" fill="#fee59a"/>
<rect x="201.12" y="921.11" width="371.68" height="24.63" fill="#e9f5e3"/>
<rect x="572.80" y="921.11" width="48.48" height="24.63" fill="#f98954"/>
<rect x="621.28" y="921.11" width="16.16" height="24.63" fill="#fafac4"/>
<rect x="637.44" y="921.11" width="226.24" height="24.63" fill="#e9f5e3"/>
<rect x="863.68" y="921.11" width="32.32" height="24.63" fill="#c5e1ee"/>
<rect x="896.00" y="921.11" width="16.16" height="24.63" fill="#e9f5e3"/>
<rect x="912.16" y="921.11" width="16.16" height="24.63" fill="#fed98a"/>
<rect x="928.32" y="921.11" width="161.60" height="24.63" fill="#e9f5e3"/>
<rect x="1089.92" y="921.11" width="16.16" height="24.63" fill="#c5e1ee"/>
<rect x="1106.08" y="921.11" width="96.96" height="24.63" fill="#e9f5e3"/>
<rect x="168.80" y="945.74" width="113.12" height="24.63" fill="#eff7da"/>
<rect x="281.92" y="945.74" width="16.16" height="24.63" fill="#4572b2"/>
<rect x="298.08" y="945.74" width="581.76" height="24.63" fill="#eff7da"/>
<rect x="879.84" y="945.74" width="16.16" height="24.63" fill="#f98954"/>
<rect x="896.00" y="945.74" width="161.60" height="24.63" fill="#eff7da"/>
<rect x="1057.60" y="945.74" width="16.16" height="24.63" fill="#4572b2"/>
<rect x="1073.76" y="945.74" width="16.16" height="24.63" fill="#eff7da"/>
<rect x="1089.92" y="945.74" width="16.16" height="24.63" fill="#4572b2"/>
<rect x="1106.08" y="945.74" width="96.96" height="24.63" fill="#eff7da"/>
<rect x="168.80" y="970.37" width="16.16" height="24.63" fill="#fee59a"/>
<rect x="184.96" y="970.37" width="16.16" height="24.63" fill="#d52e27"/>
<rect x="201.12" y="970.37" width="64.64" height="24.63" fill="#e4f3ec"/>
<rect x="265.76" y="970.37" width="16.16" height="24.63" fill="#fafac4"/>
<rect x="281.92" y="970.37" width="32.32" height="24.63" fill="#e4f3ec"/>
<rect x="314.24" y="970.37" width="16.16" height="24.63" fill="#fafac4"/>
<rect x="330.40" y="970.37" width="16.16" height="24.63" fill="#fee59a"/>
<rect x="346.56" y="970.37" width="16.16" height="24.63" fill="#e4f3ec"/>
<rect x="362.72" y="970.37" width="16.16" height="24.63" fill="#fafac4"/>
<rect x="378.88" y="970.37" width="16.16" height="24.63" fill="#e4f3ec"/>
<rect x="395.04" y="970.37" width="16.16" height="24.63" fill="#fee59a"/>
<rect x="411.20" y="970.37" width="16.16" height="24.63" fill="#e4f3ec"/>
<rect x="427.36" y="970.37" width="16.16" height="24.63" fill="#fafac4"/>
<rect x="443.52" y="970.37" width="113.12" height="24.63" fill="#e4f3ec"/>
<rect x="556.64" y="970.37" width="16.16" height="24.63" fill="#fafac4"/>
<rect x="572.80" y="970.37" width="16.16" height="24.63" fill="#fee59a"/>
<rect x="588.96" y="970.37" width="48.48" height="24.63" fill="#fafac4"/>
<rect x="637.44" y="970.37" width="161.60" height="24.63" fill="#e4f3ec"/>
<rect x="799.04" y="970.37" width="16.16" height="24.63" fill="#fafac4"/>
<rect x="815.20" y="970.37" width="16.16" height="24.63" fill="#e4f3ec"/>
<rect x="831.36" y="970.37" width="32.32" height="24.63" fill="#fafac4"/>
<rect x="863.68" y="970.37" width="16.16" height="24.63" fill="#b9d9eb"/>
<rect x="879.84" y="970.37" width="16.16" height="24.63" fill="#fafac4"/>
<rect x="896.00" y="970.37" width="16.16" height="24.63" fill="#e4f3ec"/>
<rect x="912.16" y="970.37" width="16.16" height="24.63" fill="#fed98a"/>
<rect x="928.32" y="970.37" width="32.32" height="24.63" fill="#e4f3ec"/>
<rect x="960.64" y="970.37" width="16.16" height="24.63" fill="#fee59a"/>
<rect x="976.80" y="970.37" width="16.16" height="24.63" fill="#fafac4"/>
<rect x="992.96" y="970.37" width="210.08" height="24.63" fill="#e4f3ec"/>
<rect x="168.80" y="995.00" width="16.16" height="24.63" fill="#fed98a"/>
<rect x="184.96" y="995.00" width="16.16" height="24.63" fill="#d52e27"/>
<rect x="201.12" y="995.00" width="64.64" height="24.63" fill="#e4f3ec"/>
<rect x="265.76" y="995.00" width="16.16" height="24.63" fill="#fafac4"/>
<rect x="281.92" y="995.00" width="16.16" height="24.63" fill="#dcf0f4"/>
<rect x="298.08" y="995.00" width="16.16" height="24.63" fill="#e4f3ec"/>
<rect x="314.24" y="995.00" width="16.16" height="24.63" fill="#fafac4"/>
<rect x="330.40" y="995.00" width="16.16" height="24.63" fill="#fed98a"/>
<rect x="346.56" y="995.00" width="16.16" height="24.63" fill="#e4f3ec"/>
<rect x="362.72" y="995.00" width="16.16" height="24.63" fill="#fafac4"/>
<rect x="378.88" y="995.00" width="16.16" height="24.63" fill="#e4f3ec"/>
<rect x="395.04" y="995.00" width="16.16" height="24.63" fill="#fed98a"/>
<rect x="411.20" y="995.00" width="16.16" height="24.63" fill="#e4f3ec"/>
<rect x="427.36" y="995.00" width="16.16" height="24.63" fill="#fafac4"/>
<rect x="443.52" y="995.00" width="113.12" height="24.63" fill="#e4f3ec"/>
<rect x="556.64" y="995.00" width="32.32" height="24.63" fill="#fafac4"/>
<rect x="588.96" y="995.00" width="32.32" height="24.63" fill="#e4f3ec"/>
<rect x="621.28" y="995.00" width="16.16" height="24.63" fill="#fafac4"/>
<rect x="637.44" y="995.00" width="16.16" height="24.63" fill="#e4f3ec"/>
<rect x="653.60" y="995.00" width="16.16" height="24.63" fill="#dcf0f4"/>
<rect x="669.76" y="995.00" width="129.28" height="24.63" fill="#e4f3ec"/>
<rect x="799.04" y="995.00" width="16.16" height="24.63" fill="#fafac4"/>
<rect x="815.20" y="995.00" width="16.16" height="24.63" fill="#e4f3ec"/>
<rect x="831.36" y="995.00" width="16.16" height="24.63" fill="#fafac4"/>
<rect x="847.52" y="995.00" width="16.16" height="24.63" fill="#e4f3ec"/>
<rect x="863.68" y="995.00" width="16.16" height="24.63" fill="#b9d9eb"/>
<rect x="879.84" y="995.00" width="16.16" height="24.63" fill="#fafac4"/>
<rect x="896.00" y="995.00" width="16.16" height="24.63" fill="#e4f3ec"/>
<rect x="912.16" y="995.00" width="16.16" height="24.63" fill="#fee59a"/>
<rect x="928.32" y="995.00" width="32.32" height="24.63" fill="#e4f3ec"/>
<rect x="960.64" y="995.00" width="16.16" height="24.63" fill="#fee59a"/>
<rect x="976.80" y="995.00" width="16.16" height="24.63" fill="#fafac4"/>
<rect x="992.96" y="995.00" width="210.08" height="24.63" fill="#e4f3ec"/>
<rect x="168.80" y="1019.63" width="16.16" height="24.63" fill="#fed98a"/>
<rect x="184.96" y="1019.63" width="16.16" height="24.63" fill="#d52e27"/>
<rect x="201.12" y="1019.63" width="32.32" height="24.63" fill="#dcf0f4"/>
<rect x="233.44" y="1019.63" width="16.16" height="24.63" fill="#e4f3ec"/>
<rect x="249.60" y="1019.63" width="16.16" height="24.63" fill="#dcf0f4"/>
<rect x="265.76" y="1019.63" width="16.16" height="24.63" fill="#fafac4"/>
<rect x="281.92" y="1019.63" width="32.32" height="24.63" fill="#e4f3ec"/>
<rect x="314.24" y="1019.63" width="16.16" height="24.63" fill="#fafac4"/>
<rect x="330.40" y="1019.63" width="16.16" height="24.63" fill="#fed98a"/>
<rect x="346.56" y="1019.63" width="16.16" height="24.63" fill="#e4f3ec"/>
<rect x="362.72" y="1019.63" width="16.16" height="24.63" fill="#fafac4"/>
<rect x="378.88" y="1019.63" width="16.16" height="24.63" fill="#e4f3ec"/>
<rect x="395.04" y="1019.63" width="16.16" height="24.63" fill="#fed98a"/>
<rect x="411.20" y="1019.63" width="16.16" height="24.63" fill="#e4f3ec"/>
<rect x="427.36" y="1019.63" width="16.16" height="24.63" fill="#fafac4"/>
<rect x="443.52" y="1019.63" width="113.12" height="24.63" fill="#e4f3ec"/>
<rect x="556.64" y="1019.63" width="32.32" height="24.63" fill="#fafac4"/>
<rect x="588.96" y="1019.63" width="32.32" height="24.63" fill="#e4f3ec"/>
<rect x="621.28" y="1019.63" width="16.16" height="24.63" fill="#fafac4"/>
<rect x="637.44" y="1019.63" width="16.16" height="24.63" fill="#e4f3ec"/>
<rect x="653.60" y="1019.63" width="16.16" height="24.63" fill="#dcf0f4"/>
<rect x="669.76" y="1019.63" width="129.28" height="24.63" fill="#e4f3ec"/>
<rect x="799.04" y="1019.63" width="16.16" height="24.63" fill="#fafac4"/>
<rect x="815.20" y="1019.63" width="16.16" height="24.63" fill="#e4f3ec"/>
<rect x="831.36" y="1019.63" width="16.16" height="24.63" fill="#fafac4"/>
<rect x="847.52" y="1019.63" width="16.16" height="24.63" fill="#e4f3ec"/>
<rect x="863.68" y="1019.63" width="16.16" height="24.63" fill="#b9d9eb"/>
<rect x="879.84" y="1019.63" width="16.16" height="24.63" fill="#fafac4"/>
<rect x="896.00" y="1019.63" width="16.16" height="24.63" fill="#e4f3ec"/>
<rect x="912.16" y="1019.63" width="16.16" height="24.63" fill="#fee59a"/>
<rect x="928.32" y="1019.63" width="32.32" height="24.63" fill="#e4f3ec"/>
<rect x="960.64" y="1019.63" width="16.16" height="24.63" fill="#fee59a"/>
<rect x="976.80" y="1019.63" width="16.16" height="24.63" fill="#fafac4"/>
<rect x="992.96" y="1019.63" width="210.08" height="24.63" fill="#e4f3ec"/>
</g>
<g shape-rendering="crispEdges">
<rect x="168.80" y="107.1" width="16.16" height="21.3" fill="#aae6bb"/>
<rect x="184.96" y="107.1" width="16.16" height="21.3" fill="#aae6bb"/>
<rect x="201.12" y="107.1" width="16.16" height="21.3" fill="#aae6bb"/>
<rect x="217.28" y="107.1" width="16.16" height="21.3" fill="#aae6bb"/>
<rect x="233.44" y="107.1" width="16.16" height="21.3" fill="#aae6bb"/>
<rect x="249.60" y="107.1" width="16.16" height="21.3" fill="#fb8d84"/>
<rect x="265.76" y="107.1" width="16.16" height="21.3" fill="#aae6bb"/>
<rect x="281.92" y="107.1" width="16.16" height="21.3" fill="#aae6bb"/>
<rect x="298.08" y="107.1" width="16.16" height="21.3" fill="#aae6bb"/>
<rect x="314.24" y="107.1" width="16.16" height="21.3" fill="#aae6bb"/>
<rect x="330.40" y="107.1" width="16.16" height="21.3" fill="#fb8d84"/>
<rect x="346.56" y="107.1" width="16.16" height="21.3" fill="#aae6bb"/>
<rect x="362.72" y="107.1" width="16.16" height="21.3" fill="#aae6bb"/>
<rect x="378.88" y="107.1" width="16.16" height="21.3" fill="#aae6bb"/>
<rect x="395.04" y="107.1" width="16.16" height="21.3" fill="#aae6bb"/>
<rect x="411.20" y="107.1" width="16.16" height="21.3" fill="#aae6bb"/>
<rect x="427.36" y="107.1" width="16.16" height="21.3" fill="#aae6bb"/>
<rect x="443.52" y="107.1" width="16.16" height="21.3" fill="#fb8d84"/>
<rect x="459.68" y="107.1" width="16.16" height="21.3" fill="#aae6bb"/>
<rect x="475.84" y="107.1" width="16.16" height="21.3" fill="#aae6bb"/>
<rect x="492.00" y="107.1" width="16.16" height="21.3" fill="#aae6bb"/>
<rect x="508.16" y="107.1" width="16.16" height="21.3" fill="#aae6bb"/>
<rect x="524.32" y="107.1" width="16.16" height="21.3" fill="#aae6bb"/>
<rect x="540.48" y="107.1" width="16.16" height="21.3" fill="#aae6bb"/>
<rect x="556.64" y="107.1" width="16.16" height="21.3" fill="#aae6bb"/>
<rect x="572.80" y="107.1" width="16.16" height="21.3" fill="#fb8d84"/>
<rect x="588.96" y="107.1" width="16.16" height="21.3" fill="#fb8d84"/>
<rect x="605.12" y="107.1" width="16.16" height="21.3" fill="#fb8d84"/>
<rect x="621.28" y="107.1" width="16.16" height="21.3" fill="#fb8d84"/>
<rect x="637.44" y="107.1" width="16.16" height="21.3" fill="#aae6bb"/>
<rect x="653.60" y="107.1" width="16.16" height="21.3" fill="#aae6bb"/>
<rect x="669.76" y="107.1" width="16.16" height="21.3" fill="#aae6bb"/>
<rect x="685.92" y="107.1" width="16.16" height="21.3" fill="#aae6bb"/>
<rect x="702.08" y="107.1" width="16.16" height="21.3" fill="#fb8d84"/>
<rect x="718.24" y="107.1" width="16.16" height="21.3" fill="#aae6bb"/>
<rect x="734.40" y="107.1" width="16.16" height="21.3" fill="#aae6bb"/>
<rect x="750.56" y="107.1" width="16.16" height="21.3" fill="#fb8d84"/>
<rect x="766.72" y="107.1" width="16.16" height="21.3" fill="#aae6bb"/>
<rect x="782.88" y="107.1" width="16.16" height="21.3" fill="#aae6bb"/>
<rect x="799.04" y="107.1" width="16.16" height="21.3" fill="#fb8d84"/>
<rect x="815.20" y="107.1" width="16.16" height="21.3" fill="#fb8d84"/>
<rect x="831.36" y="107.1" width="16.16" height="21.3" fill="#fb8d84"/>
<rect x="847.52" y="107.1" width="16.16" height="21.3" fill="#aae6bb"/>
<rect x="863.68" y="107.1" width="16.16" height="21.3" fill="#aae6bb"/>
<rect x="879.84" y="107.1" width="16.16" height="21.3" fill="#aae6bb"/>
<rect x="896.00" y="107.1" width="16.16" height="21.3" fill="#fb8d84"/>
<rect x="912.16" y="107.1" width="16.16" height="21.3" fill="#aae6bb"/>
<rect x="928.32" y="107.1" width="16.16" height="21.3" fill="#aae6bb"/>
<rect x="944.48" y="107.1" width="16.16" height="21.3" fill="#aae6bb"/>
<rect x="960.64" y="107.1" width="16.16" height="21.3" fill="#aae6bb"/>
<rect x="976.80" y="107.1" width="16.16" height="21.3" fill="#aae6bb"/>
<rect x="992.96" y="107.1" width="16.16" height="21.3" fill="#aae6bb"/>
<rect x="1009.12" y="107.1" width="16.16" height="21.3" fill="#aae6bb"/>
<rect x="1025.28" y="107.1" width="16.16" height="21.3" fill="#fb8d84"/>
<rect x="1041.44" y="107.1" width="16.16" height="21.3" fill="#aae6bb"/>
<rect x="1057.60" y="107.1" width="16.16" height="21.3" fill="#aae6bb"/>
<rect x="1073.76" y="107.1" width="16.16" height="21.3" fill="#aae6bb"/>
<rect x="1089.92" y="107.1" width="16.16" height="21.3" fill="#aae6bb"/>
<rect x="1106.08" y="107.1" width="16.16" height="21.3" fill="#aae6bb"/>
<rect x="1122.24" y="107.1" width="16.16" height="21.3" fill="#aae6bb"/>
<rect x="1138.40" y="107.1" width="16.16" height="21.3" fill="#aae6bb"/>
<rect x="1154.56" y="107.1" width="16.16" height="21.3" fill="#aae6bb"/>
<rect x="1170.72" y="107.1" width="16.16" height="21.3" fill="#aae6bb"/>
<rect x="1186.88" y="107.1" width="16.16" height="21.3" fill="#aae6bb"/>
</g>
<rect x="169.40" y="135.8" width="95.66" height="137" fill="url(#gA2)"/>
<text transform="translate(224.8,163.20) rotate(-90)" class="grp" textLength="20.37" lengthAdjust="spacingAndGlyphs">A2</text>
<rect x="266.46" y="135.8" width="176.36" height="137" fill="url(#gA3)"/>
<text transform="translate(362.1,163.20) rotate(-90)" class="grp" textLength="20.37" lengthAdjust="spacingAndGlyphs">A3</text>
<rect x="444.22" y="135.8" width="30.92" height="137" fill="url(#gA6)"/>
<text transform="translate(467.2,163.20) rotate(-90)" class="grp" textLength="20.37" lengthAdjust="spacingAndGlyphs">A6</text>
<rect x="476.54" y="135.8" width="30.92" height="137" fill="url(#gA4)"/>
<text transform="translate(499.5,163.20) rotate(-90)" class="grp" textLength="20.37" lengthAdjust="spacingAndGlyphs">A4</text>
<rect x="508.86" y="135.8" width="30.92" height="137" fill="url(#gA5)"/>
<text transform="translate(531.8,163.20) rotate(-90)" class="grp" textLength="20.37" lengthAdjust="spacingAndGlyphs">A5</text>
<rect x="541.18" y="135.8" width="305.64" height="137" fill="url(#gA1)"/>
<text transform="translate(701.5,163.20) rotate(-90)" class="grp" textLength="20.37" lengthAdjust="spacingAndGlyphs">A1</text>
<rect x="848.22" y="135.8" width="354.12" height="137" fill="url(#gA7)"/>
<text transform="translate(1032.8,163.20) rotate(-90)" class="grp" textLength="20.37" lengthAdjust="spacingAndGlyphs">A7</text>
<text transform="translate(181.8,270.00) rotate(-90)" class="cl" textLength="43.31" lengthAdjust="spacingAndGlyphs">IITR89</text>
<text transform="translate(197.9,270.00) rotate(-90)" class="cl" textLength="73.03" lengthAdjust="spacingAndGlyphs">NCIB 8687</text>
<text transform="translate(214.1,270.00) rotate(-90)" class="cl" textLength="43.32" lengthAdjust="spacingAndGlyphs">JQ191</text>
<text transform="translate(230.3,270.00) rotate(-90)" class="cl" textLength="66.41" lengthAdjust="spacingAndGlyphs">UBA3878</text>
<text transform="translate(246.4,270.00) rotate(-90)" class="cl" textLength="35.09" lengthAdjust="spacingAndGlyphs">HO-1</text>
<text transform="translate(262.6,270.00) rotate(-90)" class="cl" textLength="39.22" lengthAdjust="spacingAndGlyphs">AN70</text>
<text transform="translate(278.7,270.00) rotate(-90)" class="cl" textLength="48.58" lengthAdjust="spacingAndGlyphs">QD168</text>
<text transform="translate(294.9,270.00) rotate(-90)" class="cl" textLength="30.98" lengthAdjust="spacingAndGlyphs">J481</text>
<text transform="translate(311.1,270.00) rotate(-90)" class="cl" textLength="47.78" lengthAdjust="spacingAndGlyphs">BU33N</text>
<text transform="translate(327.2,270.00) rotate(-90)" class="cl" textLength="44.22" lengthAdjust="spacingAndGlyphs">JQ135</text>
<text transform="translate(343.4,270.00) rotate(-90)" class="cl" textLength="24.68" lengthAdjust="spacingAndGlyphs">393</text>
<text transform="translate(359.5,270.00) rotate(-90)" class="cl" textLength="38.87" lengthAdjust="spacingAndGlyphs">MMA</text>
<text transform="translate(375.7,270.00) rotate(-90)" class="cl" textLength="66.41" lengthAdjust="spacingAndGlyphs">UBA7629</text>
<text transform="translate(391.9,270.00) rotate(-90)" class="cl" textLength="66.41" lengthAdjust="spacingAndGlyphs">UBA3227</text>
<text transform="translate(408.0,270.00) rotate(-90)" class="cl" textLength="56.47" lengthAdjust="spacingAndGlyphs">SMD-FA</text>
<text transform="translate(424.2,270.00) rotate(-90)" class="cl" textLength="25.20" lengthAdjust="spacingAndGlyphs">AS1</text>
<text transform="translate(440.3,270.00) rotate(-90)" class="cl" textLength="73.83" lengthAdjust="spacingAndGlyphs">UBA10732</text>
<text transform="translate(456.5,270.00) rotate(-90)" class="cl" textLength="87.81" lengthAdjust="spacingAndGlyphs">APW500_S1</text>
<text transform="translate(472.7,270.00) rotate(-90)" class="cl" textLength="48.33" lengthAdjust="spacingAndGlyphs">Mc250</text>
<text transform="translate(488.8,270.00) rotate(-90)" class="cl" textLength="82.01" lengthAdjust="spacingAndGlyphs">DSM 13975</text>
<text transform="translate(505.0,270.00) rotate(-90)" class="cl" textLength="54.93" lengthAdjust="spacingAndGlyphs">SORT26</text>
<text transform="translate(521.1,270.00) rotate(-90)" class="cl" textLength="82.81" lengthAdjust="spacingAndGlyphs">KCTC 42083</text>
<text transform="translate(537.3,270.00) rotate(-90)" class="cl" textLength="72.97" lengthAdjust="spacingAndGlyphs">UBA11281</text>
<text transform="translate(553.5,270.00) rotate(-90)" class="cl" textLength="40.00" lengthAdjust="spacingAndGlyphs">JLAF9</text>
<text transform="translate(569.6,270.00) rotate(-90)" class="cl" textLength="81.20" lengthAdjust="spacingAndGlyphs">SCSIO B001</text>
<text transform="translate(585.8,270.00) rotate(-90)" class="cl" textLength="63.11" lengthAdjust="spacingAndGlyphs">NY11312</text>
<text transform="translate(601.9,270.00) rotate(-90)" class="cl" textLength="32.61" lengthAdjust="spacingAndGlyphs">LK36</text>
<text transform="translate(618.1,270.00) rotate(-90)" class="cl" textLength="44.97" lengthAdjust="spacingAndGlyphs">GZAF1</text>
<text transform="translate(634.3,270.00) rotate(-90)" class="cl" textLength="26.09" lengthAdjust="spacingAndGlyphs">A21</text>
<text transform="translate(650.4,270.00) rotate(-90)" class="cl" textLength="34.31" lengthAdjust="spacingAndGlyphs">P156</text>
<text transform="translate(666.6,270.00) rotate(-90)" class="cl" textLength="99.31" lengthAdjust="spacingAndGlyphs">SRR10754060</text>
<text transform="translate(682.7,270.00) rotate(-90)" class="cl" textLength="96.76" lengthAdjust="spacingAndGlyphs">CHK171-7552</text>
<text transform="translate(698.9,270.00) rotate(-90)" class="cl" textLength="81.31" lengthAdjust="spacingAndGlyphs">DSM 30030</text>
<text transform="translate(715.1,270.00) rotate(-90)" class="cl" textLength="45.07" lengthAdjust="spacingAndGlyphs">GZAF3</text>
<text transform="translate(731.2,270.00) rotate(-90)" class="cl" textLength="35.21" lengthAdjust="spacingAndGlyphs">ZD02</text>
<text transform="translate(747.4,270.00) rotate(-90)" class="cl" textLength="25.41" lengthAdjust="spacingAndGlyphs">YBY</text>
<text transform="translate(763.5,270.00) rotate(-90)" class="cl" textLength="94.46" lengthAdjust="spacingAndGlyphs">GMW315_S2</text>
<text transform="translate(779.7,270.00) rotate(-90)" class="cl" textLength="35.21" lengthAdjust="spacingAndGlyphs">HZ01</text>
<text transform="translate(795.9,270.00) rotate(-90)" class="cl" textLength="64.91" lengthAdjust="spacingAndGlyphs">UBA7622</text>
<text transform="translate(812.0,270.00) rotate(-90)" class="cl" textLength="52.49" lengthAdjust="spacingAndGlyphs">MUB14</text>
<text transform="translate(828.2,270.00) rotate(-90)" class="cl" textLength="101.93" lengthAdjust="spacingAndGlyphs">2021EL-00128</text>
<text transform="translate(844.3,270.00) rotate(-90)" class="cl" textLength="49.19" lengthAdjust="spacingAndGlyphs">AF 174</text>
<text transform="translate(860.5,270.00) rotate(-90)" class="cl" textLength="21.30" lengthAdjust="spacingAndGlyphs">13f</text>
<text transform="translate(876.7,270.00) rotate(-90)" class="cl" textLength="36.13" lengthAdjust="spacingAndGlyphs">BDB4</text>
<text transform="translate(892.8,270.00) rotate(-90)" class="cl" textLength="64.91" lengthAdjust="spacingAndGlyphs">UBA7605</text>
<text transform="translate(909.0,270.00) rotate(-90)" class="cl" textLength="53.26" lengthAdjust="spacingAndGlyphs">AF0001</text>
<text transform="translate(925.1,270.00) rotate(-90)" class="cl" textLength="81.31" lengthAdjust="spacingAndGlyphs">DSM 16503</text>
<text transform="translate(941.3,270.00) rotate(-90)" class="cl" textLength="40.19" lengthAdjust="spacingAndGlyphs">JF101</text>
<text transform="translate(957.5,270.00) rotate(-90)" class="cl" textLength="49.19" lengthAdjust="spacingAndGlyphs">NLF5-7</text>
<text transform="translate(973.6,270.00) rotate(-90)" class="cl" textLength="89.59" lengthAdjust="spacingAndGlyphs">SRR1763383</text>
<text transform="translate(989.8,270.00) rotate(-90)" class="cl" textLength="63.20" lengthAdjust="spacingAndGlyphs">EGD-AK7</text>
<text transform="translate(1005.9,270.00) rotate(-90)" class="cl" textLength="31.12" lengthAdjust="spacingAndGlyphs">DY-8</text>
<text transform="translate(1022.1,270.00) rotate(-90)" class="cl" textLength="40.23" lengthAdjust="spacingAndGlyphs">AU14</text>
<text transform="translate(1038.3,270.00) rotate(-90)" class="cl" textLength="82.07" lengthAdjust="spacingAndGlyphs">NCTC10388</text>
<text transform="translate(1054.4,270.00) rotate(-90)" class="cl" textLength="16.28" lengthAdjust="spacingAndGlyphs">S1</text>
<text transform="translate(1070.6,270.00) rotate(-90)" class="cl" textLength="25.44" lengthAdjust="spacingAndGlyphs">c16</text>
<text transform="translate(1086.7,270.00) rotate(-90)" class="cl" textLength="65.71" lengthAdjust="spacingAndGlyphs">NBIB-017</text>
<text transform="translate(1102.9,270.00) rotate(-90)" class="cl" textLength="40.17" lengthAdjust="spacingAndGlyphs">PSM8</text>
<text transform="translate(1119.1,270.00) rotate(-90)" class="cl" textLength="25.37" lengthAdjust="spacingAndGlyphs">T17</text>
<text transform="translate(1135.2,270.00) rotate(-90)" class="cl" textLength="36.11" lengthAdjust="spacingAndGlyphs">D334</text>
<text transform="translate(1151.4,270.00) rotate(-90)" class="cl" textLength="49.98" lengthAdjust="spacingAndGlyphs">MB207</text>
<text transform="translate(1167.5,270.00) rotate(-90)" class="cl" textLength="53.31" lengthAdjust="spacingAndGlyphs">MOR02</text>
<text transform="translate(1183.7,270.00) rotate(-90)" class="cl" textLength="41.79" lengthAdjust="spacingAndGlyphs">A-TC2</text>
<text transform="translate(1199.9,270.00) rotate(-90)" class="cl" textLength="64.00" lengthAdjust="spacingAndGlyphs">1735tsa3</text>
<path d="M209.2 94.0V19.2H456.3V42.9M185.0 95.5V94.0H233.4V94.6M176.9 97.8V95.5H193.0V97.8M217.3 95.0V94.6H249.6V95.8M209.2 97.8V95.0H225.4V97.8M241.5 97.8V95.8H257.7V97.8M292.8 75.4V42.9H619.7V51.2M273.8 97.8V75.4H311.7V80.4M290.0 97.8V80.4H333.4V85.0M306.2 97.8V85.0H360.7V86.0M330.4 88.3V86.0H391.0V87.0M322.3 97.8V88.3H338.5V97.8M366.8 88.4V87.0H415.2V88.6M354.6 97.8V88.4H378.9V93.2M370.8 97.8V93.2H387.0V97.8M403.1 97.8V88.6H427.4V90.0M419.3 97.8V90.0H435.4V97.8M483.9 55.8V51.2H755.6V54.5M459.7 88.2V55.8H508.2V70.4M451.6 97.8V88.2H467.8V97.8M492.0 92.3V70.4H524.3V96.4M483.9 97.8V92.3H500.1V97.8M516.2 97.8V96.4H532.4V97.8M612.7 76.8V54.5H898.5V73.4M548.6 97.8V76.8H676.8V83.0M617.2 84.2V83.0H736.4V87.7M578.9 87.1V84.2H655.6V86.3M564.7 97.8V87.1H593.0V88.7M580.9 97.8V88.7H605.1V94.9M597.0 97.8V94.9H613.2V97.8M637.4 90.8V86.3H673.8V87.7M629.4 97.8V90.8H645.5V97.8M661.7 97.8V87.7H685.9V90.8M677.8 97.8V90.8H694.0V97.8M710.2 97.8V87.7H762.7V87.9M734.4 89.8V87.9H791.0V88.3M726.3 97.8V89.8H742.5V97.8M766.7 89.8V88.3H815.2V88.8M758.6 97.8V89.8H774.8V97.8M799.0 89.8V88.8H831.4V94.0M791.0 97.8V89.8H807.1V97.8M823.3 97.8V94.0H839.4V97.8M855.6 97.8V73.4H941.3V80.4M871.8 97.8V80.4H1010.9V82.3M930.3 85.7V82.3H1091.4V83.6M900.0 94.2V85.7H960.6V92.6M887.9 97.8V94.2H912.2V95.5M904.1 97.8V95.5H920.2V97.8M944.5 95.5V92.6H976.8V95.5M936.4 97.8V95.5H952.6V97.8M968.7 97.8V95.5H984.9V97.8M1049.5 84.6V83.6H1133.3V85.2M1025.3 85.6V84.6H1073.8V86.8M1009.1 86.8V85.6H1041.4V86.8M1001.0 97.8V86.8H1017.2V97.8M1033.4 97.8V86.8H1049.5V97.8M1065.7 97.8V86.8H1081.8V97.8M1106.1 86.8V85.2H1160.6V86.2M1098.0 97.8V86.8H1114.2V97.8M1138.4 86.8V86.2H1182.8V90.0M1130.3 97.8V86.8H1146.5V97.8M1170.7 88.5V90.0H1195.0V97.8M1162.6 97.8V88.5H1178.8V97.8" class="dg"/>
<path d="M114.8 322.2H73.3V359.2H168.8M168.8 309.9H114.8V334.6H168.8M139.5 434.2H131.7V608.2H134.4M168.8 410.9H139.5V457.5H142.3M168.8 435.8H142.3V479.3H147.0M168.8 460.6H147.0V497.9H154.5M168.8 485.5H154.5V510.3H168.8M147.4 553.8H134.4V662.5H139.5M168.8 535.2H147.4V572.5H155.8M168.8 560.0H155.8V584.9H168.8M144.4 628.4H139.5V696.7H141.8M168.8 609.7H144.4V647.0H146.2M168.8 634.6H146.2V659.4H168.8M168.8 684.3H141.8V709.1H168.8M146.7 779.5H131.4V918.8H136.5M168.8 761.0H146.7V798.0H150.6M168.8 785.6H150.6V810.3H168.8M141.6 858.0H136.5V979.6H139.1M168.8 834.9H141.6V881.1H144.2M168.8 859.5H144.2V902.6H154.4M168.8 884.2H154.4V921.1H164.6M168.8 908.8H164.6V933.4H168.8M168.8 958.1H139.1V1001.2H162.0M168.8 982.7H162.0V1019.6H167.1M168.8 1007.3H167.1V1031.9H168.8" class="dg"/>
<path d="M93.7 520.7H72.6V848.8H93.7" class="br"/>
<text transform="translate(29.9,354.20) rotate(-90)" class="big" textLength="40.52" lengthAdjust="spacingAndGlyphs">BIO-</text>
<text transform="translate(59.2,405.80) rotate(-90)" class="big" textLength="142.00" lengthAdjust="spacingAndGlyphs">FERTILIZATION</text>
<text transform="translate(29.9,734.70) rotate(-90)" class="big" textLength="41.02" lengthAdjust="spacingAndGlyphs">BIO-</text>
<text transform="translate(59.2,784.20) rotate(-90)" class="big" textLength="139.52" lengthAdjust="spacingAndGlyphs">REMEDIATION</text>
<text transform="translate(112.8,692.70) rotate(-90)" class="big" textLength="265.54" lengthAdjust="spacingAndGlyphs">XENOBIOTICS BIODEGRAD.</text>
<text transform="translate(112.8,1025.10) rotate(-90)" class="big" textLength="255.79" lengthAdjust="spacingAndGlyphs">TOXIC-METAL TOLERANCE</text>
<text x="1219.60" y="315.7" class="rb" textLength="205.76" lengthAdjust="spacingAndGlyphs">Auxin|IAA metabolism</text>
<text x="1431.60" y="315.7" class="rr" textLength="68.04" lengthAdjust="spacingAndGlyphs">(17–26)</text>
<text x="1219.60" y="340.4" class="rb" textLength="109.26" lengthAdjust="spacingAndGlyphs">Organic acid</text>
<text x="1335.40" y="340.4" class="rr" textLength="89.19" lengthAdjust="spacingAndGlyphs">(107–128)</text>
<text x="1219.60" y="365.1" class="rb" textLength="118.62" lengthAdjust="spacingAndGlyphs">Siderophores</text>
<text x="1344.70" y="365.1" class="rr" textLength="72.20" lengthAdjust="spacingAndGlyphs">(28–43,)</text>
<text x="1219.60" y="416.7" class="rb" textLength="201.79" lengthAdjust="spacingAndGlyphs">Cyanate detoxification</text>
<text x="1426.30" y="416.7" class="rr" textLength="45.39" lengthAdjust="spacingAndGlyphs">(2–5)</text>
<text x="1219.60" y="441.6" class="rb" textLength="287.44" lengthAdjust="spacingAndGlyphs">Xenobiotic detoxif. by transport</text>
<text x="1513.00" y="441.6" class="rr" textLength="44.99" lengthAdjust="spacingAndGlyphs">(7–9)</text>
<text x="1219.60" y="466.4" class="rb" textLength="150.24" lengthAdjust="spacingAndGlyphs">Tolulene degrad.</text>
<text x="1376.00" y="466.4" class="rr" textLength="56.32" lengthAdjust="spacingAndGlyphs">(3–16)</text>
<text x="1219.60" y="491.3" class="rb" textLength="155.60" lengthAdjust="spacingAndGlyphs">Benzoate degrad.</text>
<text x="1380.70" y="491.3" class="rr" textLength="67.94" lengthAdjust="spacingAndGlyphs">(15–48)</text>
<text x="1219.60" y="516.1" class="rb" textLength="110.03" lengthAdjust="spacingAndGlyphs">PAH degrad.</text>
<text x="1335.00" y="516.1" class="rr" textLength="45.69" lengthAdjust="spacingAndGlyphs">(1–4)</text>
<text x="1219.60" y="541.0" class="rb" textLength="106.72" lengthAdjust="spacingAndGlyphs">PCB degrad.</text>
<text x="1332.60" y="541.0" class="rr" textLength="45.39" lengthAdjust="spacingAndGlyphs">(0–2)</text>
<text x="1219.60" y="565.8" class="rb" textLength="129.31" lengthAdjust="spacingAndGlyphs">Dioxin degrad.</text>
<text x="1354.90" y="565.8" class="rr" textLength="56.13" lengthAdjust="spacingAndGlyphs">(3–11)</text>
<text x="1219.60" y="590.7" class="rb" textLength="133.08" lengthAdjust="spacingAndGlyphs">Xylene degrad.</text>
<text x="1359.00" y="590.7" class="rr" textLength="56.42" lengthAdjust="spacingAndGlyphs">(6–16)</text>
<text x="1219.60" y="615.5" class="rb" textLength="313.20" lengthAdjust="spacingAndGlyphs">Degrad. of other nitro–compounds</text>
<text x="1538.20" y="615.5" class="rr" textLength="56.32" lengthAdjust="spacingAndGlyphs">(4–16)</text>
<text x="1219.60" y="640.4" class="rb" textLength="141.97" lengthAdjust="spacingAndGlyphs">Styrene degrad.</text>
<text x="1367.60" y="640.4" class="rr" textLength="66.84" lengthAdjust="spacingAndGlyphs">(10–30)</text>
<text x="1219.60" y="665.2" class="rb" textLength="230.31" lengthAdjust="spacingAndGlyphs">Hydrocarbons|oil degrad.</text>
<text x="1456.20" y="665.2" class="rr" textLength="67.94" lengthAdjust="spacingAndGlyphs">(14–19)</text>
<text x="1219.60" y="690.1" class="rb" textLength="186.15" lengthAdjust="spacingAndGlyphs">Caprolactam degrad.</text>
<text x="1411.90" y="690.1" class="rr" textLength="45.59" lengthAdjust="spacingAndGlyphs">(5–9)</text>
<text x="1219.60" y="714.9" class="rb" textLength="143.35" lengthAdjust="spacingAndGlyphs">Furfural degrad.</text>
<text x="1369.00" y="714.9" class="rr" textLength="45.09" lengthAdjust="spacingAndGlyphs">(0–1)</text>
<text x="1219.60" y="766.8" class="rb" textLength="149.44" lengthAdjust="spacingAndGlyphs">Nickel resistance</text>
<text x="1374.80" y="766.8" class="rr" textLength="67.15" lengthAdjust="spacingAndGlyphs">(11–26)</text>
<text x="1219.60" y="791.4" class="rb" textLength="130.99" lengthAdjust="spacingAndGlyphs">Iron resistance</text>
<text x="1356.20" y="791.4" class="rr" textLength="78.56" lengthAdjust="spacingAndGlyphs">(81–169)</text>
<text x="1219.60" y="816.1" class="rb" textLength="180.84" lengthAdjust="spacingAndGlyphs">Tellurium resistance</text>
<text x="1405.50" y="816.1" class="rr" textLength="45.89" lengthAdjust="spacingAndGlyphs">(1–5)</text>
<text x="1219.60" y="840.7" class="rb" textLength="170.63" lengthAdjust="spacingAndGlyphs">Mercury resistance</text>
<text x="1396.00" y="840.7" class="rr" textLength="56.72" lengthAdjust="spacingAndGlyphs">(0–22)</text>
<text x="1219.60" y="865.3" class="rb" textLength="160.41" lengthAdjust="spacingAndGlyphs">Copper resistance</text>
<text x="1385.80" y="865.3" class="rr" textLength="67.64" lengthAdjust="spacingAndGlyphs">(10–22)</text>
<text x="1219.60" y="890.0" class="rb" textLength="154.03" lengthAdjust="spacingAndGlyphs">Cobalt resistance</text>
<text x="1379.40" y="890.0" class="rr" textLength="45.19" lengthAdjust="spacingAndGlyphs">(2–4)</text>
<text x="1219.60" y="914.6" class="rb" textLength="182.03" lengthAdjust="spacingAndGlyphs">Cadmium resistance</text>
<text x="1407.20" y="914.6" class="rr" textLength="44.99" lengthAdjust="spacingAndGlyphs">(1–5)</text>
<text x="1219.60" y="939.2" class="rb" textLength="132.33" lengthAdjust="spacingAndGlyphs">Zinc resistance</text>
<text x="1357.50" y="939.2" class="rr" textLength="56.12" lengthAdjust="spacingAndGlyphs">(4–10)</text>
<text x="1219.60" y="963.9" class="rb" textLength="184.07" lengthAdjust="spacingAndGlyphs">Chromate resistance</text>
<text x="1409.30" y="963.9" class="rr" textLength="45.39" lengthAdjust="spacingAndGlyphs">(2–5)</text>
<text x="1219.60" y="988.5" class="rb" textLength="169.31" lengthAdjust="spacingAndGlyphs">Bismuth resistance</text>
<text x="1394.50" y="988.5" class="rr" textLength="45.89" lengthAdjust="spacingAndGlyphs">(0–7)</text>
<text x="1219.60" y="1013.1" class="rb" textLength="184.63" lengthAdjust="spacingAndGlyphs">Antimony resistance</text>
<text x="1409.80" y="1013.1" class="rr" textLength="56.42" lengthAdjust="spacingAndGlyphs">(7–34)</text>
<text x="1219.60" y="1037.7" class="rb" textLength="162.89" lengthAdjust="spacingAndGlyphs">Arsenic resistance</text>
<text x="1387.60" y="1037.7" class="rr" textLength="67.64" lengthAdjust="spacingAndGlyphs">(12–38)</text>
<rect x="739.7" y="1076.1" width="715.9" height="122" fill="#fdfdfd" stroke="#d2d2d2" stroke-width="1.2"/>
<text x="772.70" y="1106" class="lgh" textLength="72.58" lengthAdjust="spacingAndGlyphs">Z-scores</text>
<text x="1308.00" y="1106.5" class="lgh" textLength="115.34" lengthAdjust="spacingAndGlyphs">Environment</text>
<text x="783.00" y="1138.4" class="lgt" textLength="114.21" lengthAdjust="spacingAndGlyphs">Biofertilization</text>
<rect x="771.0" y="1148" width="138.9" height="16.7" fill="url(#b1)"/>
<text x="789.5" y="1177.6" text-anchor="middle" class="tk">−2</text>
<text x="811.9" y="1177.6" text-anchor="middle" class="tk">−1</text>
<text x="832.2" y="1177.6" text-anchor="middle" class="tk">0</text>
<text x="854.6" y="1177.6" text-anchor="middle" class="tk">1</text>
<text x="875.8" y="1177.6" text-anchor="middle" class="tk">2</text>
<text x="897.9" y="1177.6" text-anchor="middle" class="tk">3</text>
<text x="945.70" y="1138.4" class="lgt" textLength="121.61" lengthAdjust="spacingAndGlyphs">Bioremediation</text>
<rect x="937.6" y="1148" width="138.4" height="16.7" fill="url(#b2)"/>
<text x="948.0" y="1177.6" text-anchor="middle" class="tk">−4</text>
<text x="981.4" y="1177.6" text-anchor="middle" class="tk">−2</text>
<text x="1013.7" y="1177.6" text-anchor="middle" class="tk">0</text>
<text x="1047.2" y="1177.6" text-anchor="middle" class="tk">2</text>
<text x="1117.20" y="1138.4" class="lgt" textLength="119.77" lengthAdjust="spacingAndGlyphs">Toxic-metal tol.</text>
<rect x="1107.3" y="1148" width="138.4" height="16.7" fill="url(#b3)"/>
<text x="1137.3" y="1177.6" text-anchor="middle" class="tk">−2</text>
<text x="1165.7" y="1177.6" text-anchor="middle" class="tk">0</text>
<text x="1195.0" y="1177.6" text-anchor="middle" class="tk">2</text>
<text x="1224.5" y="1177.6" text-anchor="middle" class="tk">4</text>
<rect x="1309.6" y="1131.4" width="15.7" height="15.5" fill="#fb8d84"/>
<rect x="1309.6" y="1158.4" width="15.7" height="15.5" fill="#aae6bb"/>
<text x="1335.70" y="1145.7" class="lge" textLength="55.27" lengthAdjust="spacingAndGlyphs">Clinical</text>
<text x="1335.70" y="1173" class="lge" textLength="92.28" lengthAdjust="spacingAndGlyphs">Non-clinical</text>
</svg>
</body></html>
